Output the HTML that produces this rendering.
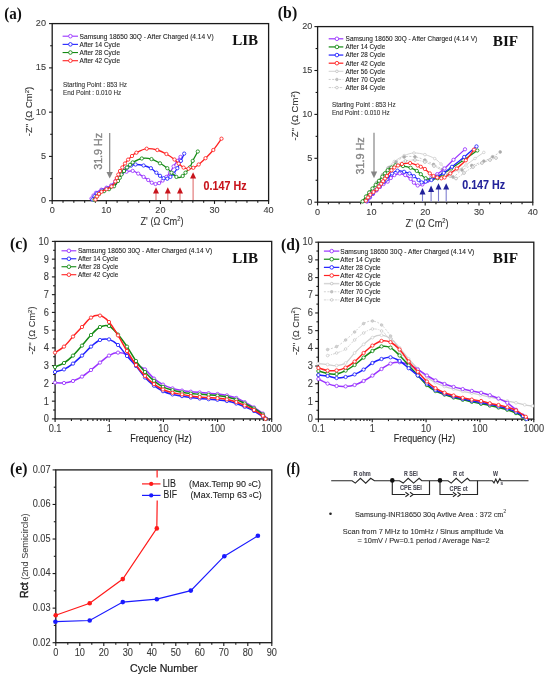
<!DOCTYPE html><html><head><meta charset="utf-8"><style>html,body{margin:0;padding:0;background:#fff;}svg{display:block;filter:blur(0.3px);}</style></head><body>
<svg width="550" height="679" viewBox="0 0 550 679">
<rect width="550" height="679" fill="#fff"/>
<rect x="52.2" y="23.6" width="216.4" height="177.1" fill="none" stroke="#1a1a1a" stroke-width="1.3"/>
<line x1="52.2" y1="200.7" x2="52.2" y2="203.9" stroke="#1a1a1a" stroke-width="1.1" />
<text x="52.2" y="213.2" font-size="9.8" font-family='"Liberation Sans", sans-serif' fill="#3a3a3a" text-anchor="middle" textLength="5.07" lengthAdjust="spacingAndGlyphs" stroke="#3a3a3a" stroke-width="0.1" >0</text>
<line x1="63.02" y1="200.7" x2="63.02" y2="202.7" stroke="#1a1a1a" stroke-width="1.1" />
<line x1="73.84" y1="200.7" x2="73.84" y2="202.7" stroke="#1a1a1a" stroke-width="1.1" />
<line x1="84.66" y1="200.7" x2="84.66" y2="202.7" stroke="#1a1a1a" stroke-width="1.1" />
<line x1="95.48" y1="200.7" x2="95.48" y2="202.7" stroke="#1a1a1a" stroke-width="1.1" />
<line x1="106.3" y1="200.7" x2="106.3" y2="203.9" stroke="#1a1a1a" stroke-width="1.1" />
<text x="106.3" y="213.2" font-size="9.8" font-family='"Liberation Sans", sans-serif' fill="#3a3a3a" text-anchor="middle" textLength="10.14" lengthAdjust="spacingAndGlyphs" stroke="#3a3a3a" stroke-width="0.1" >10</text>
<line x1="117.12" y1="200.7" x2="117.12" y2="202.7" stroke="#1a1a1a" stroke-width="1.1" />
<line x1="127.94" y1="200.7" x2="127.94" y2="202.7" stroke="#1a1a1a" stroke-width="1.1" />
<line x1="138.76" y1="200.7" x2="138.76" y2="202.7" stroke="#1a1a1a" stroke-width="1.1" />
<line x1="149.58" y1="200.7" x2="149.58" y2="202.7" stroke="#1a1a1a" stroke-width="1.1" />
<line x1="160.4" y1="200.7" x2="160.4" y2="203.9" stroke="#1a1a1a" stroke-width="1.1" />
<text x="160.4" y="213.2" font-size="9.8" font-family='"Liberation Sans", sans-serif' fill="#3a3a3a" text-anchor="middle" textLength="10.14" lengthAdjust="spacingAndGlyphs" stroke="#3a3a3a" stroke-width="0.1" >20</text>
<line x1="171.22" y1="200.7" x2="171.22" y2="202.7" stroke="#1a1a1a" stroke-width="1.1" />
<line x1="182.04" y1="200.7" x2="182.04" y2="202.7" stroke="#1a1a1a" stroke-width="1.1" />
<line x1="192.86" y1="200.7" x2="192.86" y2="202.7" stroke="#1a1a1a" stroke-width="1.1" />
<line x1="203.68" y1="200.7" x2="203.68" y2="202.7" stroke="#1a1a1a" stroke-width="1.1" />
<line x1="214.5" y1="200.7" x2="214.5" y2="203.9" stroke="#1a1a1a" stroke-width="1.1" />
<text x="214.5" y="213.2" font-size="9.8" font-family='"Liberation Sans", sans-serif' fill="#3a3a3a" text-anchor="middle" textLength="10.14" lengthAdjust="spacingAndGlyphs" stroke="#3a3a3a" stroke-width="0.1" >30</text>
<line x1="225.32" y1="200.7" x2="225.32" y2="202.7" stroke="#1a1a1a" stroke-width="1.1" />
<line x1="236.14" y1="200.7" x2="236.14" y2="202.7" stroke="#1a1a1a" stroke-width="1.1" />
<line x1="246.96" y1="200.7" x2="246.96" y2="202.7" stroke="#1a1a1a" stroke-width="1.1" />
<line x1="257.78" y1="200.7" x2="257.78" y2="202.7" stroke="#1a1a1a" stroke-width="1.1" />
<line x1="268.6" y1="200.7" x2="268.6" y2="203.9" stroke="#1a1a1a" stroke-width="1.1" />
<text x="268.6" y="213.2" font-size="9.8" font-family='"Liberation Sans", sans-serif' fill="#3a3a3a" text-anchor="middle" textLength="10.14" lengthAdjust="spacingAndGlyphs" stroke="#3a3a3a" stroke-width="0.1" >40</text>
<line x1="52.2" y1="200.7" x2="49" y2="200.7" stroke="#1a1a1a" stroke-width="1.1" />
<text x="46" y="203.2" font-size="9.8" font-family='"Liberation Sans", sans-serif' fill="#3a3a3a" text-anchor="end" textLength="5.07" lengthAdjust="spacingAndGlyphs" stroke="#3a3a3a" stroke-width="0.1" >0</text>
<line x1="52.2" y1="178.56" x2="50.2" y2="178.56" stroke="#1a1a1a" stroke-width="1.1" />
<line x1="52.2" y1="156.42" x2="49" y2="156.42" stroke="#1a1a1a" stroke-width="1.1" />
<text x="46" y="158.92" font-size="9.8" font-family='"Liberation Sans", sans-serif' fill="#3a3a3a" text-anchor="end" textLength="5.07" lengthAdjust="spacingAndGlyphs" stroke="#3a3a3a" stroke-width="0.1" >5</text>
<line x1="52.2" y1="134.29" x2="50.2" y2="134.29" stroke="#1a1a1a" stroke-width="1.1" />
<line x1="52.2" y1="112.15" x2="49" y2="112.15" stroke="#1a1a1a" stroke-width="1.1" />
<text x="46" y="114.65" font-size="9.8" font-family='"Liberation Sans", sans-serif' fill="#3a3a3a" text-anchor="end" textLength="10.14" lengthAdjust="spacingAndGlyphs" stroke="#3a3a3a" stroke-width="0.1" >10</text>
<line x1="52.2" y1="90.01" x2="50.2" y2="90.01" stroke="#1a1a1a" stroke-width="1.1" />
<line x1="52.2" y1="67.88" x2="49" y2="67.88" stroke="#1a1a1a" stroke-width="1.1" />
<text x="46" y="70.38" font-size="9.8" font-family='"Liberation Sans", sans-serif' fill="#3a3a3a" text-anchor="end" textLength="10.14" lengthAdjust="spacingAndGlyphs" stroke="#3a3a3a" stroke-width="0.1" >15</text>
<line x1="52.2" y1="45.74" x2="50.2" y2="45.74" stroke="#1a1a1a" stroke-width="1.1" />
<line x1="52.2" y1="23.6" x2="49" y2="23.6" stroke="#1a1a1a" stroke-width="1.1" />
<text x="46" y="26.1" font-size="9.8" font-family='"Liberation Sans", sans-serif' fill="#3a3a3a" text-anchor="end" textLength="10.14" lengthAdjust="spacingAndGlyphs" stroke="#3a3a3a" stroke-width="0.1" >20</text>
<text x="4.2" y="19.2" font-size="15.9" font-family='"Liberation Serif", serif' fill="#111" font-weight="bold" textLength="17.6" lengthAdjust="spacingAndGlyphs" >(a)</text>
<text x="232.2" y="44.5" font-size="15.5" font-family='"Liberation Serif", serif' fill="#111" font-weight="bold" textLength="26" lengthAdjust="spacingAndGlyphs" >LIB</text>
<text x="32.3" y="111.5" font-size="9.5" font-family='"Liberation Sans", sans-serif' fill="#333" text-anchor="middle" stroke="#333" stroke-width="0.1" transform="rotate(-90 32.3 111.5)" >-Z'' (Ω Cm<tspan font-size='6' dy='-3.5'>2</tspan><tspan dy='3.5'>)</tspan></text>
<text x="162" y="225.3" font-size="11.1" font-family='"Liberation Sans", sans-serif' fill="#333" text-anchor="middle" textLength="43" lengthAdjust="spacingAndGlyphs" stroke="#333" stroke-width="0.1" >Z' (Ω Cm<tspan font-size='7' dy='-4.2'>2</tspan><tspan dy='4.2'>)</tspan></text>
<line x1="62.6" y1="36.2" x2="78" y2="36.2" stroke="#9a33ff" stroke-width="1.1" />
<circle cx="70.4" cy="36.2" r="1.8" fill="#fff" stroke="#9a33ff" stroke-width="0.9"/>
<text x="79.6" y="38.6" font-size="7.3" font-family='"Liberation Sans", sans-serif' fill="#222" textLength="134" lengthAdjust="spacingAndGlyphs" stroke="#222" stroke-width="0.1" >Samsung 18650 30Q - After Charged (4.14 V)</text>
<line x1="62.6" y1="44.37" x2="78" y2="44.37" stroke="#2020ff" stroke-width="1.1" />
<circle cx="70.4" cy="44.37" r="1.8" fill="#fff" stroke="#2020ff" stroke-width="0.9"/>
<text x="79.6" y="46.77" font-size="7.3" font-family='"Liberation Sans", sans-serif' fill="#222" textLength="40.4" lengthAdjust="spacingAndGlyphs" stroke="#222" stroke-width="0.1" >After 14 Cycle</text>
<line x1="62.6" y1="52.54" x2="78" y2="52.54" stroke="#138a13" stroke-width="1.1" />
<circle cx="70.4" cy="52.54" r="1.8" fill="#fff" stroke="#138a13" stroke-width="0.9"/>
<text x="79.6" y="54.94" font-size="7.3" font-family='"Liberation Sans", sans-serif' fill="#222" textLength="40.4" lengthAdjust="spacingAndGlyphs" stroke="#222" stroke-width="0.1" >After 28 Cycle</text>
<line x1="62.6" y1="60.71" x2="78" y2="60.71" stroke="#ff2222" stroke-width="1.1" />
<circle cx="70.4" cy="60.71" r="1.8" fill="#fff" stroke="#ff2222" stroke-width="0.9"/>
<text x="79.6" y="63.11" font-size="7.3" font-family='"Liberation Sans", sans-serif' fill="#222" textLength="40.4" lengthAdjust="spacingAndGlyphs" stroke="#222" stroke-width="0.1" >After 42 Cycle</text>
<text x="63" y="87.4" font-size="7" font-family='"Liberation Sans", sans-serif' fill="#333" textLength="64" lengthAdjust="spacingAndGlyphs" stroke="#333" stroke-width="0.1" >Starting Point : 853 Hz</text>
<text x="63" y="95.4" font-size="7" font-family='"Liberation Sans", sans-serif' fill="#333" textLength="58.2" lengthAdjust="spacingAndGlyphs" stroke="#333" stroke-width="0.1" >End Point : 0.010 Hz</text>
<line x1="109.7" y1="133" x2="109.7" y2="173" stroke="#858585" stroke-width="1.2" />
<polygon points="106.5,172 112.9,172 109.7,178.6" fill="#858585"/>
<text x="102.2" y="169.8" font-size="11.5" font-family='"Liberation Sans", sans-serif' fill="#858585" textLength="36.8" lengthAdjust="spacingAndGlyphs" stroke="#858585" stroke-width="0.35" transform="rotate(-90 102.2 169.8)" >31.9 Hz</text>
<path d="M91.5,198.5 C91.83,198 92.75,196.45 93.5,195.5 C94.25,194.55 95.17,193.55 96,192.8 C96.83,192.05 97.6,191.52 98.5,191 C99.4,190.48 100.48,190.1 101.4,189.7 C102.32,189.3 103.15,188.93 104,188.6 C104.85,188.27 105.67,188.02 106.5,187.7 C107.33,187.38 108.22,187.08 109,186.7 C109.78,186.32 110.45,185.93 111.2,185.4 C111.95,184.87 112.78,184.23 113.5,183.5 C114.22,182.77 114.83,181.92 115.5,181 C116.17,180.08 116.83,178.92 117.5,178 C118.17,177.08 118.75,176.25 119.5,175.5 C120.25,174.75 120.83,174.13 122,173.5 C123.17,172.87 124.72,172.13 126.5,171.7 C128.28,171.27 130.75,170.58 132.7,170.9 C134.65,171.22 136.38,172.6 138.2,173.6 C140.02,174.6 141.93,175.83 143.6,176.9 C145.27,177.97 146.83,179.03 148.2,180 C149.57,180.97 150.58,182.03 151.8,182.7 C153.02,183.37 154.28,183.93 155.5,184 C156.72,184.07 157.9,183.68 159.1,183.1 C160.3,182.52 161.48,181.53 162.7,180.5 C163.92,179.47 165.18,178.2 166.4,176.9 C167.62,175.6 168.8,174.45 170,172.7 C171.2,170.95 172.38,168.37 173.6,166.4 C174.82,164.43 176.15,162.48 177.3,160.9 C178.45,159.32 179.97,157.57 180.5,156.9" fill="none" stroke="#9a33ff" stroke-width="1.3" stroke-linejoin="round"/>
<circle cx="91.5" cy="198.5" r="1.65" fill="#fff" stroke="#9a33ff" stroke-width="0.85"/>
<circle cx="93.5" cy="195.5" r="1.65" fill="#fff" stroke="#9a33ff" stroke-width="0.85"/>
<circle cx="96" cy="192.8" r="1.65" fill="#fff" stroke="#9a33ff" stroke-width="0.85"/>
<circle cx="101.4" cy="189.7" r="1.65" fill="#fff" stroke="#9a33ff" stroke-width="0.85"/>
<circle cx="106.5" cy="187.7" r="1.65" fill="#fff" stroke="#9a33ff" stroke-width="0.85"/>
<circle cx="111.2" cy="185.4" r="1.65" fill="#fff" stroke="#9a33ff" stroke-width="0.85"/>
<circle cx="115.5" cy="181" r="1.65" fill="#fff" stroke="#9a33ff" stroke-width="0.85"/>
<circle cx="117.5" cy="178" r="1.65" fill="#fff" stroke="#9a33ff" stroke-width="0.85"/>
<circle cx="119.5" cy="175.5" r="1.65" fill="#fff" stroke="#9a33ff" stroke-width="0.85"/>
<circle cx="122" cy="173.5" r="1.65" fill="#fff" stroke="#9a33ff" stroke-width="0.85"/>
<circle cx="126.5" cy="171.7" r="1.65" fill="#fff" stroke="#9a33ff" stroke-width="0.85"/>
<circle cx="132.7" cy="170.9" r="1.65" fill="#fff" stroke="#9a33ff" stroke-width="0.85"/>
<circle cx="138.2" cy="173.6" r="1.65" fill="#fff" stroke="#9a33ff" stroke-width="0.85"/>
<circle cx="143.6" cy="176.9" r="1.65" fill="#fff" stroke="#9a33ff" stroke-width="0.85"/>
<circle cx="148.2" cy="180" r="1.65" fill="#fff" stroke="#9a33ff" stroke-width="0.85"/>
<circle cx="151.8" cy="182.7" r="1.65" fill="#fff" stroke="#9a33ff" stroke-width="0.85"/>
<circle cx="155.5" cy="184" r="1.65" fill="#fff" stroke="#9a33ff" stroke-width="0.85"/>
<circle cx="159.1" cy="183.1" r="1.65" fill="#fff" stroke="#9a33ff" stroke-width="0.85"/>
<circle cx="162.7" cy="180.5" r="1.65" fill="#fff" stroke="#9a33ff" stroke-width="0.85"/>
<circle cx="166.4" cy="176.9" r="1.65" fill="#fff" stroke="#9a33ff" stroke-width="0.85"/>
<circle cx="170" cy="172.7" r="1.65" fill="#fff" stroke="#9a33ff" stroke-width="0.85"/>
<circle cx="173.6" cy="166.4" r="1.65" fill="#fff" stroke="#9a33ff" stroke-width="0.85"/>
<circle cx="177.3" cy="160.9" r="1.65" fill="#fff" stroke="#9a33ff" stroke-width="0.85"/>
<circle cx="180.5" cy="156.9" r="1.65" fill="#fff" stroke="#9a33ff" stroke-width="0.85"/>
<path d="M92.5,199.5 C92.83,198.95 93.75,197.2 94.5,196.2 C95.25,195.2 96.17,194.23 97,193.5 C97.83,192.77 98.67,192.3 99.5,191.8 C100.33,191.3 101.17,190.88 102,190.5 C102.83,190.12 103.67,189.82 104.5,189.5 C105.33,189.18 106.17,188.92 107,188.6 C107.83,188.28 108.67,188 109.5,187.6 C110.33,187.2 111.17,186.8 112,186.2 C112.83,185.6 113.75,184.87 114.5,184 C115.25,183.13 115.83,182.08 116.5,181 C117.17,179.92 117.83,178.58 118.5,177.5 C119.17,176.42 119.83,175.42 120.5,174.5 C121.17,173.58 121.75,172.83 122.5,172 C123.25,171.17 124.17,170.27 125,169.5 C125.83,168.73 126.5,168.05 127.5,167.4 C128.5,166.75 129.67,166.08 131,165.6 C132.33,165.12 133.4,164.52 135.5,164.5 C137.6,164.48 141.03,164.88 143.6,165.5 C146.17,166.12 148.77,167 150.9,168.2 C153.03,169.4 154.88,171.43 156.4,172.7 C157.92,173.97 158.8,174.88 160,175.8 C161.2,176.72 162.38,177.72 163.6,178.2 C164.82,178.68 166.17,178.92 167.3,178.7 C168.43,178.48 169.35,177.75 170.4,176.9 C171.45,176.05 172.45,175.05 173.6,173.6 C174.75,172.15 176.08,170.32 177.3,168.2 C178.52,166.08 179.75,163.33 180.9,160.9 C182.05,158.47 183.65,154.82 184.2,153.6" fill="none" stroke="#2020ff" stroke-width="1.3" stroke-linejoin="round"/>
<circle cx="92.5" cy="199.5" r="1.65" fill="#fff" stroke="#2020ff" stroke-width="0.85"/>
<circle cx="94.5" cy="196.2" r="1.65" fill="#fff" stroke="#2020ff" stroke-width="0.85"/>
<circle cx="97" cy="193.5" r="1.65" fill="#fff" stroke="#2020ff" stroke-width="0.85"/>
<circle cx="102" cy="190.5" r="1.65" fill="#fff" stroke="#2020ff" stroke-width="0.85"/>
<circle cx="107" cy="188.6" r="1.65" fill="#fff" stroke="#2020ff" stroke-width="0.85"/>
<circle cx="112" cy="186.2" r="1.65" fill="#fff" stroke="#2020ff" stroke-width="0.85"/>
<circle cx="114.5" cy="184" r="1.65" fill="#fff" stroke="#2020ff" stroke-width="0.85"/>
<circle cx="116.5" cy="181" r="1.65" fill="#fff" stroke="#2020ff" stroke-width="0.85"/>
<circle cx="118.5" cy="177.5" r="1.65" fill="#fff" stroke="#2020ff" stroke-width="0.85"/>
<circle cx="120.5" cy="174.5" r="1.65" fill="#fff" stroke="#2020ff" stroke-width="0.85"/>
<circle cx="122.5" cy="172" r="1.65" fill="#fff" stroke="#2020ff" stroke-width="0.85"/>
<circle cx="125" cy="169.5" r="1.65" fill="#fff" stroke="#2020ff" stroke-width="0.85"/>
<circle cx="127.5" cy="167.4" r="1.65" fill="#fff" stroke="#2020ff" stroke-width="0.85"/>
<circle cx="131" cy="165.6" r="1.65" fill="#fff" stroke="#2020ff" stroke-width="0.85"/>
<circle cx="135.5" cy="164.5" r="1.65" fill="#fff" stroke="#2020ff" stroke-width="0.85"/>
<circle cx="143.6" cy="165.5" r="1.65" fill="#fff" stroke="#2020ff" stroke-width="0.85"/>
<circle cx="150.9" cy="168.2" r="1.65" fill="#fff" stroke="#2020ff" stroke-width="0.85"/>
<circle cx="156.4" cy="172.7" r="1.65" fill="#fff" stroke="#2020ff" stroke-width="0.85"/>
<circle cx="160" cy="175.8" r="1.65" fill="#fff" stroke="#2020ff" stroke-width="0.85"/>
<circle cx="163.6" cy="178.2" r="1.65" fill="#fff" stroke="#2020ff" stroke-width="0.85"/>
<circle cx="167.3" cy="178.7" r="1.65" fill="#fff" stroke="#2020ff" stroke-width="0.85"/>
<circle cx="170.4" cy="176.9" r="1.65" fill="#fff" stroke="#2020ff" stroke-width="0.85"/>
<circle cx="173.6" cy="173.6" r="1.65" fill="#fff" stroke="#2020ff" stroke-width="0.85"/>
<circle cx="177.3" cy="168.2" r="1.65" fill="#fff" stroke="#2020ff" stroke-width="0.85"/>
<circle cx="180.9" cy="160.9" r="1.65" fill="#fff" stroke="#2020ff" stroke-width="0.85"/>
<circle cx="184.2" cy="153.6" r="1.65" fill="#fff" stroke="#2020ff" stroke-width="0.85"/>
<path d="M94.5,200 C94.83,199.47 95.75,197.77 96.5,196.8 C97.25,195.83 98.17,194.93 99,194.2 C99.83,193.47 100.67,192.9 101.5,192.4 C102.33,191.9 103.17,191.57 104,191.2 C104.83,190.83 105.67,190.53 106.5,190.2 C107.33,189.87 108.17,189.57 109,189.2 C109.83,188.83 110.67,188.48 111.5,188 C112.33,187.52 113.22,186.97 114,186.3 C114.78,185.63 115.53,184.88 116.2,184 C116.87,183.12 117.4,182.03 118,181 C118.6,179.97 119.22,178.88 119.8,177.8 C120.38,176.72 120.8,175.63 121.5,174.5 C122.2,173.37 123.08,172.17 124,171 C124.92,169.83 126,168.53 127,167.5 C128,166.47 129.05,165.65 130,164.8 C130.95,163.95 130.73,163.45 132.7,162.4 C134.67,161.35 138.67,159.05 141.8,158.5 C144.93,157.95 148.47,158.3 151.5,159.1 C154.53,159.9 157.37,161.78 160,163.3 C162.63,164.82 165.38,166.63 167.3,168.2 C169.22,169.77 169.98,171.25 171.5,172.7 C173.02,174.15 175.13,176.08 176.4,176.9 C177.67,177.72 178.05,177.75 179.1,177.6 C180.15,177.45 181.63,176.82 182.7,176 C183.77,175.18 184.28,174.15 185.5,172.7 C186.72,171.25 188.8,169.27 190,167.3 C191.2,165.33 191.4,163.53 192.7,160.9 C194,158.27 196.95,153.07 197.8,151.5" fill="none" stroke="#138a13" stroke-width="1.3" stroke-linejoin="round"/>
<circle cx="94.5" cy="200" r="1.65" fill="#fff" stroke="#138a13" stroke-width="0.85"/>
<circle cx="96.5" cy="196.8" r="1.65" fill="#fff" stroke="#138a13" stroke-width="0.85"/>
<circle cx="99" cy="194.2" r="1.65" fill="#fff" stroke="#138a13" stroke-width="0.85"/>
<circle cx="104" cy="191.2" r="1.65" fill="#fff" stroke="#138a13" stroke-width="0.85"/>
<circle cx="109" cy="189.2" r="1.65" fill="#fff" stroke="#138a13" stroke-width="0.85"/>
<circle cx="114" cy="186.3" r="1.65" fill="#fff" stroke="#138a13" stroke-width="0.85"/>
<circle cx="118" cy="181" r="1.65" fill="#fff" stroke="#138a13" stroke-width="0.85"/>
<circle cx="119.8" cy="177.8" r="1.65" fill="#fff" stroke="#138a13" stroke-width="0.85"/>
<circle cx="121.5" cy="174.5" r="1.65" fill="#fff" stroke="#138a13" stroke-width="0.85"/>
<circle cx="124" cy="171" r="1.65" fill="#fff" stroke="#138a13" stroke-width="0.85"/>
<circle cx="127" cy="167.5" r="1.65" fill="#fff" stroke="#138a13" stroke-width="0.85"/>
<circle cx="130" cy="164.8" r="1.65" fill="#fff" stroke="#138a13" stroke-width="0.85"/>
<circle cx="132.7" cy="162.4" r="1.65" fill="#fff" stroke="#138a13" stroke-width="0.85"/>
<circle cx="141.8" cy="158.5" r="1.65" fill="#fff" stroke="#138a13" stroke-width="0.85"/>
<circle cx="151.5" cy="159.1" r="1.65" fill="#fff" stroke="#138a13" stroke-width="0.85"/>
<circle cx="160" cy="163.3" r="1.65" fill="#fff" stroke="#138a13" stroke-width="0.85"/>
<circle cx="167.3" cy="168.2" r="1.65" fill="#fff" stroke="#138a13" stroke-width="0.85"/>
<circle cx="171.5" cy="172.7" r="1.65" fill="#fff" stroke="#138a13" stroke-width="0.85"/>
<circle cx="176.4" cy="176.9" r="1.65" fill="#fff" stroke="#138a13" stroke-width="0.85"/>
<circle cx="182.7" cy="176" r="1.65" fill="#fff" stroke="#138a13" stroke-width="0.85"/>
<circle cx="185.5" cy="172.7" r="1.65" fill="#fff" stroke="#138a13" stroke-width="0.85"/>
<circle cx="190" cy="167.3" r="1.65" fill="#fff" stroke="#138a13" stroke-width="0.85"/>
<circle cx="192.7" cy="160.9" r="1.65" fill="#fff" stroke="#138a13" stroke-width="0.85"/>
<circle cx="197.8" cy="151.5" r="1.65" fill="#fff" stroke="#138a13" stroke-width="0.85"/>
<path d="M95.4,199.5 C95.67,199 96.4,197.45 97,196.5 C97.6,195.55 98.25,194.58 99,193.8 C99.75,193.02 100.67,192.38 101.5,191.8 C102.33,191.22 103.17,190.73 104,190.3 C104.83,189.87 105.67,189.58 106.5,189.2 C107.33,188.82 108.17,188.45 109,188 C109.83,187.55 110.75,187.08 111.5,186.5 C112.25,185.92 112.87,185.33 113.5,184.5 C114.13,183.67 114.75,182.58 115.3,181.5 C115.85,180.42 116.3,179.17 116.8,178 C117.3,176.83 117.77,175.67 118.3,174.5 C118.83,173.33 119.33,172.17 120,171 C120.67,169.83 121.47,168.75 122.3,167.5 C123.13,166.25 124.03,164.82 125,163.5 C125.97,162.18 126.93,160.85 128.1,159.6 C129.27,158.35 130.62,157.15 132,156 C133.38,154.85 133.95,153.92 136.4,152.7 C138.85,151.48 143.22,149.15 146.7,148.7 C150.18,148.25 154.02,149.12 157.3,150 C160.58,150.88 163.53,152.42 166.4,154 C169.27,155.58 172.45,157.9 174.5,159.5 C176.55,161.1 177.18,162.25 178.7,163.6 C180.22,164.95 181.97,166.75 183.6,167.6 C185.23,168.45 186.88,168.67 188.5,168.7 C190.12,168.73 191.6,168.5 193.3,167.8 C195,167.1 196.67,166.1 198.7,164.5 C200.73,162.9 203.07,160.62 205.5,158.2 C207.93,155.78 210.63,153.25 213.3,150 C215.97,146.75 220.13,140.58 221.5,138.7" fill="none" stroke="#ff2222" stroke-width="1.3" stroke-linejoin="round"/>
<circle cx="95.4" cy="199.5" r="1.65" fill="#fff" stroke="#ff2222" stroke-width="0.85"/>
<circle cx="97" cy="196.5" r="1.65" fill="#fff" stroke="#ff2222" stroke-width="0.85"/>
<circle cx="99" cy="193.8" r="1.65" fill="#fff" stroke="#ff2222" stroke-width="0.85"/>
<circle cx="101.5" cy="191.8" r="1.65" fill="#fff" stroke="#ff2222" stroke-width="0.85"/>
<circle cx="106.5" cy="189.2" r="1.65" fill="#fff" stroke="#ff2222" stroke-width="0.85"/>
<circle cx="111.5" cy="186.5" r="1.65" fill="#fff" stroke="#ff2222" stroke-width="0.85"/>
<circle cx="115.3" cy="181.5" r="1.65" fill="#fff" stroke="#ff2222" stroke-width="0.85"/>
<circle cx="116.8" cy="178" r="1.65" fill="#fff" stroke="#ff2222" stroke-width="0.85"/>
<circle cx="118.3" cy="174.5" r="1.65" fill="#fff" stroke="#ff2222" stroke-width="0.85"/>
<circle cx="120" cy="171" r="1.65" fill="#fff" stroke="#ff2222" stroke-width="0.85"/>
<circle cx="122.3" cy="167.5" r="1.65" fill="#fff" stroke="#ff2222" stroke-width="0.85"/>
<circle cx="125" cy="163.5" r="1.65" fill="#fff" stroke="#ff2222" stroke-width="0.85"/>
<circle cx="128.1" cy="159.6" r="1.65" fill="#fff" stroke="#ff2222" stroke-width="0.85"/>
<circle cx="132" cy="156" r="1.65" fill="#fff" stroke="#ff2222" stroke-width="0.85"/>
<circle cx="136.4" cy="152.7" r="1.65" fill="#fff" stroke="#ff2222" stroke-width="0.85"/>
<circle cx="146.7" cy="148.7" r="1.65" fill="#fff" stroke="#ff2222" stroke-width="0.85"/>
<circle cx="157.3" cy="150" r="1.65" fill="#fff" stroke="#ff2222" stroke-width="0.85"/>
<circle cx="166.4" cy="154" r="1.65" fill="#fff" stroke="#ff2222" stroke-width="0.85"/>
<circle cx="174.5" cy="159.5" r="1.65" fill="#fff" stroke="#ff2222" stroke-width="0.85"/>
<circle cx="178.7" cy="163.6" r="1.65" fill="#fff" stroke="#ff2222" stroke-width="0.85"/>
<circle cx="183.6" cy="167.6" r="1.65" fill="#fff" stroke="#ff2222" stroke-width="0.85"/>
<circle cx="188.5" cy="168.7" r="1.65" fill="#fff" stroke="#ff2222" stroke-width="0.85"/>
<circle cx="193.3" cy="167.8" r="1.65" fill="#fff" stroke="#ff2222" stroke-width="0.85"/>
<circle cx="198.7" cy="164.5" r="1.65" fill="#fff" stroke="#ff2222" stroke-width="0.85"/>
<circle cx="205.5" cy="158.2" r="1.65" fill="#fff" stroke="#ff2222" stroke-width="0.85"/>
<circle cx="213.3" cy="150" r="1.65" fill="#fff" stroke="#ff2222" stroke-width="0.85"/>
<circle cx="221.5" cy="138.7" r="1.65" fill="#fff" stroke="#ff2222" stroke-width="0.85"/>
<line x1="156" y1="192.3" x2="156" y2="200.1" stroke="#e07070" stroke-width="1.1" />
<polygon points="153,193.6 159,193.6 156,187.3" fill="#c8141c"/>
<line x1="167.8" y1="192.3" x2="167.8" y2="200.1" stroke="#e07070" stroke-width="1.1" />
<polygon points="164.8,193.6 170.8,193.6 167.8,187.3" fill="#c8141c"/>
<line x1="180" y1="192.3" x2="180" y2="200.1" stroke="#e07070" stroke-width="1.1" />
<polygon points="177,193.6 183,193.6 180,187.3" fill="#c8141c"/>
<line x1="193.1" y1="177.2" x2="193.1" y2="200.1" stroke="#e07070" stroke-width="1.1" />
<polygon points="190.1,178.5 196.1,178.5 193.1,172.2" fill="#c8141c"/>
<text x="203.6" y="189.5" font-size="12" font-family='"Liberation Sans", sans-serif' fill="#c8141c" font-weight="bold" textLength="42.9" lengthAdjust="spacingAndGlyphs" stroke="#c8141c" stroke-width="0.1" >0.147 Hz</text>
<rect x="317.6" y="26.6" width="215.2" height="175.6" fill="none" stroke="#1a1a1a" stroke-width="1.3"/>
<line x1="317.6" y1="202.2" x2="317.6" y2="205.4" stroke="#1a1a1a" stroke-width="1.1" />
<text x="317.6" y="214.9" font-size="9.8" font-family='"Liberation Sans", sans-serif' fill="#3a3a3a" text-anchor="middle" textLength="5.07" lengthAdjust="spacingAndGlyphs" stroke="#3a3a3a" stroke-width="0.1" >0</text>
<line x1="328.36" y1="202.2" x2="328.36" y2="204.2" stroke="#1a1a1a" stroke-width="1.1" />
<line x1="339.12" y1="202.2" x2="339.12" y2="204.2" stroke="#1a1a1a" stroke-width="1.1" />
<line x1="349.88" y1="202.2" x2="349.88" y2="204.2" stroke="#1a1a1a" stroke-width="1.1" />
<line x1="360.64" y1="202.2" x2="360.64" y2="204.2" stroke="#1a1a1a" stroke-width="1.1" />
<line x1="371.4" y1="202.2" x2="371.4" y2="205.4" stroke="#1a1a1a" stroke-width="1.1" />
<text x="371.4" y="214.9" font-size="9.8" font-family='"Liberation Sans", sans-serif' fill="#3a3a3a" text-anchor="middle" textLength="10.14" lengthAdjust="spacingAndGlyphs" stroke="#3a3a3a" stroke-width="0.1" >10</text>
<line x1="382.16" y1="202.2" x2="382.16" y2="204.2" stroke="#1a1a1a" stroke-width="1.1" />
<line x1="392.92" y1="202.2" x2="392.92" y2="204.2" stroke="#1a1a1a" stroke-width="1.1" />
<line x1="403.68" y1="202.2" x2="403.68" y2="204.2" stroke="#1a1a1a" stroke-width="1.1" />
<line x1="414.44" y1="202.2" x2="414.44" y2="204.2" stroke="#1a1a1a" stroke-width="1.1" />
<line x1="425.2" y1="202.2" x2="425.2" y2="205.4" stroke="#1a1a1a" stroke-width="1.1" />
<text x="425.2" y="214.9" font-size="9.8" font-family='"Liberation Sans", sans-serif' fill="#3a3a3a" text-anchor="middle" textLength="10.14" lengthAdjust="spacingAndGlyphs" stroke="#3a3a3a" stroke-width="0.1" >20</text>
<line x1="435.96" y1="202.2" x2="435.96" y2="204.2" stroke="#1a1a1a" stroke-width="1.1" />
<line x1="446.72" y1="202.2" x2="446.72" y2="204.2" stroke="#1a1a1a" stroke-width="1.1" />
<line x1="457.48" y1="202.2" x2="457.48" y2="204.2" stroke="#1a1a1a" stroke-width="1.1" />
<line x1="468.24" y1="202.2" x2="468.24" y2="204.2" stroke="#1a1a1a" stroke-width="1.1" />
<line x1="479" y1="202.2" x2="479" y2="205.4" stroke="#1a1a1a" stroke-width="1.1" />
<text x="479" y="214.9" font-size="9.8" font-family='"Liberation Sans", sans-serif' fill="#3a3a3a" text-anchor="middle" textLength="10.14" lengthAdjust="spacingAndGlyphs" stroke="#3a3a3a" stroke-width="0.1" >30</text>
<line x1="489.76" y1="202.2" x2="489.76" y2="204.2" stroke="#1a1a1a" stroke-width="1.1" />
<line x1="500.52" y1="202.2" x2="500.52" y2="204.2" stroke="#1a1a1a" stroke-width="1.1" />
<line x1="511.28" y1="202.2" x2="511.28" y2="204.2" stroke="#1a1a1a" stroke-width="1.1" />
<line x1="522.04" y1="202.2" x2="522.04" y2="204.2" stroke="#1a1a1a" stroke-width="1.1" />
<line x1="532.8" y1="202.2" x2="532.8" y2="205.4" stroke="#1a1a1a" stroke-width="1.1" />
<text x="532.8" y="214.9" font-size="9.8" font-family='"Liberation Sans", sans-serif' fill="#3a3a3a" text-anchor="middle" textLength="10.14" lengthAdjust="spacingAndGlyphs" stroke="#3a3a3a" stroke-width="0.1" >40</text>
<line x1="317.6" y1="202.2" x2="314.4" y2="202.2" stroke="#1a1a1a" stroke-width="1.1" />
<text x="312.3" y="204.6" font-size="9.8" font-family='"Liberation Sans", sans-serif' fill="#3a3a3a" text-anchor="end" textLength="5.07" lengthAdjust="spacingAndGlyphs" stroke="#3a3a3a" stroke-width="0.1" >0</text>
<line x1="317.6" y1="180.25" x2="315.6" y2="180.25" stroke="#1a1a1a" stroke-width="1.1" />
<line x1="317.6" y1="158.3" x2="314.4" y2="158.3" stroke="#1a1a1a" stroke-width="1.1" />
<text x="312.3" y="160.7" font-size="9.8" font-family='"Liberation Sans", sans-serif' fill="#3a3a3a" text-anchor="end" textLength="5.07" lengthAdjust="spacingAndGlyphs" stroke="#3a3a3a" stroke-width="0.1" >5</text>
<line x1="317.6" y1="136.35" x2="315.6" y2="136.35" stroke="#1a1a1a" stroke-width="1.1" />
<line x1="317.6" y1="114.4" x2="314.4" y2="114.4" stroke="#1a1a1a" stroke-width="1.1" />
<text x="312.3" y="116.8" font-size="9.8" font-family='"Liberation Sans", sans-serif' fill="#3a3a3a" text-anchor="end" textLength="10.14" lengthAdjust="spacingAndGlyphs" stroke="#3a3a3a" stroke-width="0.1" >10</text>
<line x1="317.6" y1="92.45" x2="315.6" y2="92.45" stroke="#1a1a1a" stroke-width="1.1" />
<line x1="317.6" y1="70.5" x2="314.4" y2="70.5" stroke="#1a1a1a" stroke-width="1.1" />
<text x="312.3" y="72.9" font-size="9.8" font-family='"Liberation Sans", sans-serif' fill="#3a3a3a" text-anchor="end" textLength="10.14" lengthAdjust="spacingAndGlyphs" stroke="#3a3a3a" stroke-width="0.1" >15</text>
<line x1="317.6" y1="48.55" x2="315.6" y2="48.55" stroke="#1a1a1a" stroke-width="1.1" />
<line x1="317.6" y1="26.6" x2="314.4" y2="26.6" stroke="#1a1a1a" stroke-width="1.1" />
<text x="312.3" y="29" font-size="9.8" font-family='"Liberation Sans", sans-serif' fill="#3a3a3a" text-anchor="end" textLength="10.14" lengthAdjust="spacingAndGlyphs" stroke="#3a3a3a" stroke-width="0.1" >20</text>
<text x="277.8" y="17.6" font-size="15.9" font-family='"Liberation Serif", serif' fill="#111" font-weight="bold" textLength="19.4" lengthAdjust="spacingAndGlyphs" >(b)</text>
<text x="492.7" y="46.1" font-size="15.5" font-family='"Liberation Serif", serif' fill="#111" font-weight="bold" textLength="25.5" lengthAdjust="spacingAndGlyphs" >BIF</text>
<text x="298.5" y="115.8" font-size="9.5" font-family='"Liberation Sans", sans-serif' fill="#333" text-anchor="middle" stroke="#333" stroke-width="0.1" transform="rotate(-90 298.5 115.8)" >-Z'' (Ω Cm<tspan font-size='6' dy='-3.5'>2</tspan><tspan dy='3.5'>)</tspan></text>
<text x="427.1" y="226.7" font-size="11.1" font-family='"Liberation Sans", sans-serif' fill="#333" text-anchor="middle" textLength="43" lengthAdjust="spacingAndGlyphs" stroke="#333" stroke-width="0.1" >Z' (Ω Cm<tspan font-size='7' dy='-4.2'>2</tspan><tspan dy='4.2'>)</tspan></text>
<line x1="328.7" y1="38.8" x2="343.3" y2="38.8" stroke="#9a33ff" stroke-width="1.2" />
<circle cx="336.9" cy="38.8" r="1.8" fill="#fff" stroke="#9a33ff" stroke-width="0.9"/>
<text x="345.6" y="41.2" font-size="7.2" font-family='"Liberation Sans", sans-serif' fill="#222" textLength="131.5" lengthAdjust="spacingAndGlyphs" stroke="#222" stroke-width="0.1" >Samsung 18650 30Q - After Charged (4.14 V)</text>
<line x1="328.7" y1="46.93" x2="343.3" y2="46.93" stroke="#138a13" stroke-width="1.2" />
<circle cx="336.9" cy="46.93" r="1.8" fill="#fff" stroke="#138a13" stroke-width="0.9"/>
<text x="345.6" y="49.33" font-size="7.2" font-family='"Liberation Sans", sans-serif' fill="#222" textLength="39.6" lengthAdjust="spacingAndGlyphs" stroke="#222" stroke-width="0.1" >After 14 Cycle</text>
<line x1="328.7" y1="55.06" x2="343.3" y2="55.06" stroke="#2020ff" stroke-width="1.2" />
<circle cx="336.9" cy="55.06" r="1.8" fill="#fff" stroke="#2020ff" stroke-width="0.9"/>
<text x="345.6" y="57.46" font-size="7.2" font-family='"Liberation Sans", sans-serif' fill="#222" textLength="39.6" lengthAdjust="spacingAndGlyphs" stroke="#222" stroke-width="0.1" >After 28 Cycle</text>
<line x1="328.7" y1="63.19" x2="343.3" y2="63.19" stroke="#ff2222" stroke-width="1.2" />
<circle cx="336.9" cy="63.19" r="1.8" fill="#fff" stroke="#ff2222" stroke-width="0.9"/>
<text x="345.6" y="65.59" font-size="7.2" font-family='"Liberation Sans", sans-serif' fill="#222" textLength="39.6" lengthAdjust="spacingAndGlyphs" stroke="#222" stroke-width="0.1" >After 42 Cycle</text>
<line x1="328.7" y1="71.32" x2="343.3" y2="71.32" stroke="#c8c8c8" stroke-width="0.8" />
<circle cx="336.9" cy="71.32" r="1.3" fill="#fff" stroke="#b8b8b8" stroke-width="0.7"/>
<text x="345.6" y="73.72" font-size="7.2" font-family='"Liberation Sans", sans-serif' fill="#222" textLength="39.6" lengthAdjust="spacingAndGlyphs" stroke="#222" stroke-width="0.1" >After 56 Cycle</text>
<line x1="328.7" y1="79.45" x2="343.3" y2="79.45" stroke="#c0c0c0" stroke-width="0.8" stroke-dasharray="2,1.5"/>
<circle cx="336.9" cy="79.45" r="1.3" fill="#c4c4c4" stroke="#b8b8b8" stroke-width="0.7"/>
<text x="345.6" y="81.85" font-size="7.2" font-family='"Liberation Sans", sans-serif' fill="#222" textLength="39.6" lengthAdjust="spacingAndGlyphs" stroke="#222" stroke-width="0.1" >After 70 Cycle</text>
<line x1="328.7" y1="87.58" x2="343.3" y2="87.58" stroke="#c4c4c4" stroke-width="0.8" stroke-dasharray="2.5,1,1,1"/>
<circle cx="336.9" cy="87.58" r="1.3" fill="#fff" stroke="#b8b8b8" stroke-width="0.7"/>
<text x="345.6" y="89.98" font-size="7.2" font-family='"Liberation Sans", sans-serif' fill="#222" textLength="39.6" lengthAdjust="spacingAndGlyphs" stroke="#222" stroke-width="0.1" >After 84 Cycle</text>
<text x="331.9" y="107.4" font-size="7" font-family='"Liberation Sans", sans-serif' fill="#333" textLength="63.7" lengthAdjust="spacingAndGlyphs" stroke="#333" stroke-width="0.1" >Starting Point : 853 Hz</text>
<text x="331.9" y="115.4" font-size="7" font-family='"Liberation Sans", sans-serif' fill="#333" textLength="57.9" lengthAdjust="spacingAndGlyphs" stroke="#333" stroke-width="0.1" >End Point : 0.010 Hz</text>
<line x1="374" y1="132.7" x2="374" y2="172.5" stroke="#858585" stroke-width="1.2" />
<polygon points="370.8,171.6 377.2,171.6 374,178.2" fill="#858585"/>
<text x="363.8" y="174.6" font-size="11.5" font-family='"Liberation Sans", sans-serif' fill="#858585" textLength="37.2" lengthAdjust="spacingAndGlyphs" stroke="#858585" stroke-width="0.35" transform="rotate(-90 363.8 174.6)" >31.9 Hz</text>
<path d="M362,201.5 C363.17,199.92 366.67,195.08 369,192 C371.33,188.92 373.78,185.82 376,183 C378.22,180.18 380.35,177.6 382.3,175.1 C384.25,172.6 385.7,170.27 387.7,168 C389.7,165.73 391.55,163.57 394.3,161.5 C397.05,159.43 400.92,157.02 404.2,155.6 C407.48,154.18 410.55,153.17 414,153 C417.45,152.83 421.45,153.67 424.9,154.6 C428.35,155.53 432.02,157.03 434.7,158.6 C437.38,160.17 439.12,162.1 441,164 C442.88,165.9 444.33,168.58 446,170 C447.67,171.42 449,172.5 451,172.5 C453,172.5 455.5,171.25 458,170 C460.5,168.75 463.17,166.92 466,165 C468.83,163.08 472.03,160.6 475,158.5 C477.97,156.4 482.33,153.42 483.8,152.4" fill="none" stroke="#c8c8c8" stroke-width="0.8" stroke-linejoin="round"/>
<circle cx="362" cy="201.5" r="1.3" fill="#fff" stroke="#c8c8c8" stroke-width="0.7"/>
<circle cx="369" cy="192" r="1.3" fill="#fff" stroke="#c8c8c8" stroke-width="0.7"/>
<circle cx="376" cy="183" r="1.3" fill="#fff" stroke="#c8c8c8" stroke-width="0.7"/>
<circle cx="382.3" cy="175.1" r="1.3" fill="#fff" stroke="#c8c8c8" stroke-width="0.7"/>
<circle cx="387.7" cy="168" r="1.3" fill="#fff" stroke="#c8c8c8" stroke-width="0.7"/>
<circle cx="394.3" cy="161.5" r="1.3" fill="#fff" stroke="#c8c8c8" stroke-width="0.7"/>
<circle cx="404.2" cy="155.6" r="1.3" fill="#fff" stroke="#c8c8c8" stroke-width="0.7"/>
<circle cx="414" cy="153" r="1.3" fill="#fff" stroke="#c8c8c8" stroke-width="0.7"/>
<circle cx="424.9" cy="154.6" r="1.3" fill="#fff" stroke="#c8c8c8" stroke-width="0.7"/>
<circle cx="434.7" cy="158.6" r="1.3" fill="#fff" stroke="#c8c8c8" stroke-width="0.7"/>
<circle cx="441" cy="164" r="1.3" fill="#fff" stroke="#c8c8c8" stroke-width="0.7"/>
<circle cx="446" cy="170" r="1.3" fill="#fff" stroke="#c8c8c8" stroke-width="0.7"/>
<circle cx="451" cy="172.5" r="1.3" fill="#fff" stroke="#c8c8c8" stroke-width="0.7"/>
<circle cx="458" cy="170" r="1.3" fill="#fff" stroke="#c8c8c8" stroke-width="0.7"/>
<circle cx="466" cy="165" r="1.3" fill="#fff" stroke="#c8c8c8" stroke-width="0.7"/>
<circle cx="475" cy="158.5" r="1.3" fill="#fff" stroke="#c8c8c8" stroke-width="0.7"/>
<circle cx="483.8" cy="152.4" r="1.3" fill="#fff" stroke="#c8c8c8" stroke-width="0.7"/>
<path d="M363,201.5 C364.17,199.92 367.67,195.17 370,192 C372.33,188.83 374.83,185.42 377,182.5 C379.17,179.58 381,177 383,174.5 C385,172 386.83,169.58 389,167.5 C391.17,165.42 393.47,163.75 396,162 C398.53,160.25 401.03,157.87 404.2,157 C407.37,156.13 411.55,156.28 415,156.8 C418.45,157.32 421.8,158.82 424.9,160.1 C428,161.38 430.68,162.93 433.6,164.5 C436.52,166.07 440.03,167.75 442.4,169.5 C444.77,171.25 446.03,173.75 447.8,175 C449.57,176.25 450.63,177.83 453,177 C455.37,176.17 458.87,171.92 462,170 C465.13,168.08 468.17,166.97 471.8,165.5 C475.43,164.03 480.33,162.65 483.8,161.2 C487.27,159.75 489.87,158.33 492.6,156.8 C495.33,155.27 498.93,152.8 500.2,152" fill="none" stroke="#b4b4b4" stroke-width="0.7" stroke-dasharray="2,1.5" stroke-linejoin="round"/>
<circle cx="363" cy="201.5" r="1.4" fill="#a8a8a8" stroke="#b4b4b4" stroke-width="0.7"/>
<circle cx="370" cy="192" r="1.4" fill="#a8a8a8" stroke="#b4b4b4" stroke-width="0.7"/>
<circle cx="377" cy="182.5" r="1.4" fill="#a8a8a8" stroke="#b4b4b4" stroke-width="0.7"/>
<circle cx="383" cy="174.5" r="1.4" fill="#a8a8a8" stroke="#b4b4b4" stroke-width="0.7"/>
<circle cx="389" cy="167.5" r="1.4" fill="#a8a8a8" stroke="#b4b4b4" stroke-width="0.7"/>
<circle cx="396" cy="162" r="1.4" fill="#a8a8a8" stroke="#b4b4b4" stroke-width="0.7"/>
<circle cx="404.2" cy="157" r="1.4" fill="#a8a8a8" stroke="#b4b4b4" stroke-width="0.7"/>
<circle cx="415" cy="156.8" r="1.4" fill="#a8a8a8" stroke="#b4b4b4" stroke-width="0.7"/>
<circle cx="424.9" cy="160.1" r="1.4" fill="#a8a8a8" stroke="#b4b4b4" stroke-width="0.7"/>
<circle cx="433.6" cy="164.5" r="1.4" fill="#a8a8a8" stroke="#b4b4b4" stroke-width="0.7"/>
<circle cx="442.4" cy="169.5" r="1.4" fill="#a8a8a8" stroke="#b4b4b4" stroke-width="0.7"/>
<circle cx="447.8" cy="175" r="1.4" fill="#a8a8a8" stroke="#b4b4b4" stroke-width="0.7"/>
<circle cx="453" cy="177" r="1.4" fill="#a8a8a8" stroke="#b4b4b4" stroke-width="0.7"/>
<circle cx="462" cy="170" r="1.4" fill="#a8a8a8" stroke="#b4b4b4" stroke-width="0.7"/>
<circle cx="471.8" cy="165.5" r="1.4" fill="#a8a8a8" stroke="#b4b4b4" stroke-width="0.7"/>
<circle cx="483.8" cy="161.2" r="1.4" fill="#a8a8a8" stroke="#b4b4b4" stroke-width="0.7"/>
<circle cx="492.6" cy="156.8" r="1.4" fill="#a8a8a8" stroke="#b4b4b4" stroke-width="0.7"/>
<circle cx="500.2" cy="152" r="1.4" fill="#a8a8a8" stroke="#b4b4b4" stroke-width="0.7"/>
<path d="M363,201.5 C364.17,200 367.67,195.5 370,192.5 C372.33,189.5 374.83,186.25 377,183.5 C379.17,180.75 381,178.33 383,176 C385,173.67 386.83,171.42 389,169.5 C391.17,167.58 393.28,165.92 396,164.5 C398.72,163.08 402.13,161.75 405.3,161 C408.47,160.25 411.73,159.83 415,160 C418.27,160.17 421.73,161 424.9,162 C428.07,163 430.98,164.5 434,166 C437.02,167.5 440.33,169.33 443,171 C445.67,172.67 447.83,174.75 450,176 C452.17,177.25 453.67,179 456,178.5 C458.33,178 461.17,174.92 464,173 C466.83,171.08 470,168.67 473,167 C476,165.33 479.17,164.17 482,163 C484.83,161.83 487.67,160.83 490,160 C492.33,159.17 495,158.33 496,158" fill="none" stroke="#b4b4b4" stroke-width="0.7" stroke-dasharray="2.5,1,1,1" stroke-linejoin="round"/>
<circle cx="363" cy="201.5" r="1.4" fill="#fff" stroke="#b4b4b4" stroke-width="0.8"/>
<circle cx="370" cy="192.5" r="1.4" fill="#fff" stroke="#b4b4b4" stroke-width="0.8"/>
<circle cx="377" cy="183.5" r="1.4" fill="#fff" stroke="#b4b4b4" stroke-width="0.8"/>
<circle cx="383" cy="176" r="1.4" fill="#fff" stroke="#b4b4b4" stroke-width="0.8"/>
<circle cx="389" cy="169.5" r="1.4" fill="#fff" stroke="#b4b4b4" stroke-width="0.8"/>
<circle cx="396" cy="164.5" r="1.4" fill="#fff" stroke="#b4b4b4" stroke-width="0.8"/>
<circle cx="405.3" cy="161" r="1.4" fill="#fff" stroke="#b4b4b4" stroke-width="0.8"/>
<circle cx="415" cy="160" r="1.4" fill="#fff" stroke="#b4b4b4" stroke-width="0.8"/>
<circle cx="424.9" cy="162" r="1.4" fill="#fff" stroke="#b4b4b4" stroke-width="0.8"/>
<circle cx="434" cy="166" r="1.4" fill="#fff" stroke="#b4b4b4" stroke-width="0.8"/>
<circle cx="443" cy="171" r="1.4" fill="#fff" stroke="#b4b4b4" stroke-width="0.8"/>
<circle cx="450" cy="176" r="1.4" fill="#fff" stroke="#b4b4b4" stroke-width="0.8"/>
<circle cx="456" cy="178.5" r="1.4" fill="#fff" stroke="#b4b4b4" stroke-width="0.8"/>
<circle cx="464" cy="173" r="1.4" fill="#fff" stroke="#b4b4b4" stroke-width="0.8"/>
<circle cx="473" cy="167" r="1.4" fill="#fff" stroke="#b4b4b4" stroke-width="0.8"/>
<circle cx="482" cy="163" r="1.4" fill="#fff" stroke="#b4b4b4" stroke-width="0.8"/>
<circle cx="490" cy="160" r="1.4" fill="#fff" stroke="#b4b4b4" stroke-width="0.8"/>
<circle cx="496" cy="158" r="1.4" fill="#fff" stroke="#b4b4b4" stroke-width="0.8"/>
<path d="M367.5,201.3 C367.92,200.67 369.08,198.72 370,197.5 C370.92,196.28 371.92,195.17 373,194 C374.08,192.83 375.33,191.67 376.5,190.5 C377.67,189.33 378.83,188.08 380,187 C381.17,185.92 382.22,184.9 383.5,184 C384.78,183.1 386.48,182.6 387.7,181.6 C388.92,180.6 389.7,179.08 390.8,178 C391.9,176.92 392.82,175.85 394.3,175.1 C395.78,174.35 397.88,173.5 399.7,173.5 C401.52,173.5 403.38,174.2 405.2,175.1 C407.02,176 409.15,177.63 410.6,178.9 C412.05,180.17 412.72,181.6 413.9,182.7 C415.08,183.8 416.3,185.2 417.7,185.5 C419.1,185.8 420.63,185.27 422.3,184.5 C423.97,183.73 426.17,182.07 427.7,180.9 C429.23,179.73 429.92,178.62 431.5,177.5 C433.08,176.38 435.03,175.7 437.2,174.2 C439.37,172.7 441.78,170.9 444.5,168.5 C447.22,166.1 450.08,163 453.5,159.8 C456.92,156.6 463.08,151.05 465,149.3" fill="none" stroke="#9a33ff" stroke-width="1.3" stroke-linejoin="round"/>
<circle cx="367.5" cy="201.3" r="1.65" fill="#fff" stroke="#9a33ff" stroke-width="0.85"/>
<circle cx="370" cy="197.5" r="1.65" fill="#fff" stroke="#9a33ff" stroke-width="0.85"/>
<circle cx="373" cy="194" r="1.65" fill="#fff" stroke="#9a33ff" stroke-width="0.85"/>
<circle cx="376.5" cy="190.5" r="1.65" fill="#fff" stroke="#9a33ff" stroke-width="0.85"/>
<circle cx="380" cy="187" r="1.65" fill="#fff" stroke="#9a33ff" stroke-width="0.85"/>
<circle cx="383.5" cy="184" r="1.65" fill="#fff" stroke="#9a33ff" stroke-width="0.85"/>
<circle cx="387.7" cy="181.6" r="1.65" fill="#fff" stroke="#9a33ff" stroke-width="0.85"/>
<circle cx="390.8" cy="178" r="1.65" fill="#fff" stroke="#9a33ff" stroke-width="0.85"/>
<circle cx="394.3" cy="175.1" r="1.65" fill="#fff" stroke="#9a33ff" stroke-width="0.85"/>
<circle cx="399.7" cy="173.5" r="1.65" fill="#fff" stroke="#9a33ff" stroke-width="0.85"/>
<circle cx="405.2" cy="175.1" r="1.65" fill="#fff" stroke="#9a33ff" stroke-width="0.85"/>
<circle cx="410.6" cy="178.9" r="1.65" fill="#fff" stroke="#9a33ff" stroke-width="0.85"/>
<circle cx="413.9" cy="182.7" r="1.65" fill="#fff" stroke="#9a33ff" stroke-width="0.85"/>
<circle cx="417.7" cy="185.5" r="1.65" fill="#fff" stroke="#9a33ff" stroke-width="0.85"/>
<circle cx="422.3" cy="184.5" r="1.65" fill="#fff" stroke="#9a33ff" stroke-width="0.85"/>
<circle cx="427.7" cy="180.9" r="1.65" fill="#fff" stroke="#9a33ff" stroke-width="0.85"/>
<circle cx="431.5" cy="177.5" r="1.65" fill="#fff" stroke="#9a33ff" stroke-width="0.85"/>
<circle cx="437.2" cy="174.2" r="1.65" fill="#fff" stroke="#9a33ff" stroke-width="0.85"/>
<circle cx="444.5" cy="168.5" r="1.65" fill="#fff" stroke="#9a33ff" stroke-width="0.85"/>
<circle cx="453.5" cy="159.8" r="1.65" fill="#fff" stroke="#9a33ff" stroke-width="0.85"/>
<circle cx="465" cy="149.3" r="1.65" fill="#fff" stroke="#9a33ff" stroke-width="0.85"/>
<path d="M362.6,201.3 C363.17,200.5 364.9,197.97 366,196.5 C367.1,195.03 368.12,193.83 369.2,192.5 C370.28,191.17 371.42,189.77 372.5,188.5 C373.58,187.23 374.62,186.18 375.7,184.9 C376.78,183.62 377.9,182.17 379,180.8 C380.1,179.43 381.3,177.95 382.3,176.7 C383.3,175.45 384.1,174.38 385,173.3 C385.9,172.22 386.62,171.17 387.7,170.2 C388.78,169.23 390.22,168.32 391.5,167.5 C392.78,166.68 393.48,165.53 395.4,165.3 C397.32,165.07 400.47,165.68 403,166.1 C405.53,166.52 408.3,167 410.6,167.8 C412.9,168.6 415.1,169.83 416.8,170.9 C418.5,171.97 419.32,172.97 420.8,174.2 C422.28,175.43 423.78,177.48 425.7,178.3 C427.62,179.12 430.3,179.12 432.3,179.1 C434.3,179.08 435.93,179.02 437.7,178.2 C439.47,177.38 440.67,175.82 442.9,174.2 C445.13,172.58 447.68,170.82 451.1,168.5 C454.52,166.18 459.03,163.3 463.4,160.3 C467.77,157.3 474.98,152.13 477.3,150.5" fill="none" stroke="#138a13" stroke-width="1.3" stroke-linejoin="round"/>
<circle cx="362.6" cy="201.3" r="1.65" fill="#fff" stroke="#138a13" stroke-width="0.85"/>
<circle cx="366" cy="196.5" r="1.65" fill="#fff" stroke="#138a13" stroke-width="0.85"/>
<circle cx="369.2" cy="192.5" r="1.65" fill="#fff" stroke="#138a13" stroke-width="0.85"/>
<circle cx="372.5" cy="188.5" r="1.65" fill="#fff" stroke="#138a13" stroke-width="0.85"/>
<circle cx="375.7" cy="184.9" r="1.65" fill="#fff" stroke="#138a13" stroke-width="0.85"/>
<circle cx="379" cy="180.8" r="1.65" fill="#fff" stroke="#138a13" stroke-width="0.85"/>
<circle cx="382.3" cy="176.7" r="1.65" fill="#fff" stroke="#138a13" stroke-width="0.85"/>
<circle cx="385" cy="173.3" r="1.65" fill="#fff" stroke="#138a13" stroke-width="0.85"/>
<circle cx="387.7" cy="170.2" r="1.65" fill="#fff" stroke="#138a13" stroke-width="0.85"/>
<circle cx="391.5" cy="167.5" r="1.65" fill="#fff" stroke="#138a13" stroke-width="0.85"/>
<circle cx="395.4" cy="165.3" r="1.65" fill="#fff" stroke="#138a13" stroke-width="0.85"/>
<circle cx="403" cy="166.1" r="1.65" fill="#fff" stroke="#138a13" stroke-width="0.85"/>
<circle cx="410.6" cy="167.8" r="1.65" fill="#fff" stroke="#138a13" stroke-width="0.85"/>
<circle cx="416.8" cy="170.9" r="1.65" fill="#fff" stroke="#138a13" stroke-width="0.85"/>
<circle cx="420.8" cy="174.2" r="1.65" fill="#fff" stroke="#138a13" stroke-width="0.85"/>
<circle cx="425.7" cy="178.3" r="1.65" fill="#fff" stroke="#138a13" stroke-width="0.85"/>
<circle cx="432.3" cy="179.1" r="1.65" fill="#fff" stroke="#138a13" stroke-width="0.85"/>
<circle cx="437.7" cy="178.2" r="1.65" fill="#fff" stroke="#138a13" stroke-width="0.85"/>
<circle cx="442.9" cy="174.2" r="1.65" fill="#fff" stroke="#138a13" stroke-width="0.85"/>
<circle cx="451.1" cy="168.5" r="1.65" fill="#fff" stroke="#138a13" stroke-width="0.85"/>
<circle cx="463.4" cy="160.3" r="1.65" fill="#fff" stroke="#138a13" stroke-width="0.85"/>
<circle cx="477.3" cy="150.5" r="1.65" fill="#fff" stroke="#138a13" stroke-width="0.85"/>
<path d="M366.5,201.3 C367,200.58 368.42,198.35 369.5,197 C370.58,195.65 371.83,194.45 373,193.2 C374.17,191.95 375.33,190.78 376.5,189.5 C377.67,188.22 378.83,186.75 380,185.5 C381.17,184.25 382.4,183 383.5,182 C384.6,181 385.17,180.92 386.6,179.5 C388.03,178.08 390.28,174.97 392.1,173.5 C393.92,172.03 395.5,170.98 397.5,170.7 C399.5,170.42 402.1,171.33 404.1,171.8 C406.1,172.27 407.87,172.77 409.5,173.5 C411.13,174.23 412.38,175.12 413.9,176.2 C415.42,177.28 417.32,178.97 418.6,180 C419.88,181.03 420.42,182.13 421.6,182.4 C422.78,182.67 424.07,182 425.7,181.6 C427.33,181.2 429.48,180.83 431.4,180 C433.32,179.17 435.15,177.78 437.2,176.6 C439.25,175.42 441.23,174.53 443.7,172.9 C446.17,171.27 448.58,169.45 452,166.8 C455.42,164.15 460.12,160.4 464.2,157 C468.28,153.6 474.45,148.17 476.5,146.4" fill="none" stroke="#2020ff" stroke-width="1.3" stroke-linejoin="round"/>
<circle cx="366.5" cy="201.3" r="1.65" fill="#fff" stroke="#2020ff" stroke-width="0.85"/>
<circle cx="369.5" cy="197" r="1.65" fill="#fff" stroke="#2020ff" stroke-width="0.85"/>
<circle cx="373" cy="193.2" r="1.65" fill="#fff" stroke="#2020ff" stroke-width="0.85"/>
<circle cx="376.5" cy="189.5" r="1.65" fill="#fff" stroke="#2020ff" stroke-width="0.85"/>
<circle cx="380" cy="185.5" r="1.65" fill="#fff" stroke="#2020ff" stroke-width="0.85"/>
<circle cx="383.5" cy="182" r="1.65" fill="#fff" stroke="#2020ff" stroke-width="0.85"/>
<circle cx="386.6" cy="179.5" r="1.65" fill="#fff" stroke="#2020ff" stroke-width="0.85"/>
<circle cx="392.1" cy="173.5" r="1.65" fill="#fff" stroke="#2020ff" stroke-width="0.85"/>
<circle cx="397.5" cy="170.7" r="1.65" fill="#fff" stroke="#2020ff" stroke-width="0.85"/>
<circle cx="404.1" cy="171.8" r="1.65" fill="#fff" stroke="#2020ff" stroke-width="0.85"/>
<circle cx="409.5" cy="173.5" r="1.65" fill="#fff" stroke="#2020ff" stroke-width="0.85"/>
<circle cx="413.9" cy="176.2" r="1.65" fill="#fff" stroke="#2020ff" stroke-width="0.85"/>
<circle cx="418.6" cy="180" r="1.65" fill="#fff" stroke="#2020ff" stroke-width="0.85"/>
<circle cx="421.6" cy="182.4" r="1.65" fill="#fff" stroke="#2020ff" stroke-width="0.85"/>
<circle cx="425.7" cy="181.6" r="1.65" fill="#fff" stroke="#2020ff" stroke-width="0.85"/>
<circle cx="431.4" cy="180" r="1.65" fill="#fff" stroke="#2020ff" stroke-width="0.85"/>
<circle cx="437.2" cy="176.6" r="1.65" fill="#fff" stroke="#2020ff" stroke-width="0.85"/>
<circle cx="443.7" cy="172.9" r="1.65" fill="#fff" stroke="#2020ff" stroke-width="0.85"/>
<circle cx="452" cy="166.8" r="1.65" fill="#fff" stroke="#2020ff" stroke-width="0.85"/>
<circle cx="464.2" cy="157" r="1.65" fill="#fff" stroke="#2020ff" stroke-width="0.85"/>
<circle cx="476.5" cy="146.4" r="1.65" fill="#fff" stroke="#2020ff" stroke-width="0.85"/>
<path d="M365.9,200.7 C366.25,200.17 367.27,198.5 368,197.5 C368.73,196.5 369.38,195.62 370.3,194.7 C371.22,193.78 372.42,192.9 373.5,192 C374.58,191.1 375.88,190.22 376.8,189.3 C377.72,188.38 378.27,187.42 379,186.5 C379.73,185.58 380.52,184.68 381.2,183.8 C381.88,182.92 382.47,182.07 383.1,181.2 C383.73,180.33 384.37,179.47 385,178.6 C385.63,177.73 386.27,176.85 386.9,176 C387.53,175.15 388.03,174.45 388.8,173.5 C389.57,172.55 390.58,171.3 391.5,170.3 C392.42,169.3 393.22,168.3 394.3,167.5 C395.38,166.7 396.73,166.08 398,165.5 C399.27,164.92 399.88,164.4 401.9,164 C403.92,163.6 407.47,162.85 410.1,163.1 C412.73,163.35 415.92,164.88 417.7,165.5 C419.48,166.12 419.6,166.22 420.8,166.8 C422,167.38 423.4,167.9 424.9,169 C426.4,170.1 428.37,172.23 429.8,173.4 C431.23,174.57 432.27,175.32 433.5,176 C434.73,176.68 435.9,177.12 437.2,177.5 C438.5,177.88 440.08,178.3 441.3,178.3 C442.52,178.3 443,178.32 444.5,177.5 C446,176.68 448.25,174.9 450.3,173.4 C452.35,171.9 454.22,170.68 456.8,168.5 C459.38,166.32 462.93,163.45 465.8,160.3 C468.67,157.15 472.63,151.38 474,149.6" fill="none" stroke="#ff2222" stroke-width="1.3" stroke-linejoin="round"/>
<circle cx="365.9" cy="200.7" r="1.65" fill="#fff" stroke="#ff2222" stroke-width="0.85"/>
<circle cx="368" cy="197.5" r="1.65" fill="#fff" stroke="#ff2222" stroke-width="0.85"/>
<circle cx="370.3" cy="194.7" r="1.65" fill="#fff" stroke="#ff2222" stroke-width="0.85"/>
<circle cx="373.5" cy="192" r="1.65" fill="#fff" stroke="#ff2222" stroke-width="0.85"/>
<circle cx="376.8" cy="189.3" r="1.65" fill="#fff" stroke="#ff2222" stroke-width="0.85"/>
<circle cx="379" cy="186.5" r="1.65" fill="#fff" stroke="#ff2222" stroke-width="0.85"/>
<circle cx="381.2" cy="183.8" r="1.65" fill="#fff" stroke="#ff2222" stroke-width="0.85"/>
<circle cx="383.1" cy="181.2" r="1.65" fill="#fff" stroke="#ff2222" stroke-width="0.85"/>
<circle cx="385" cy="178.6" r="1.65" fill="#fff" stroke="#ff2222" stroke-width="0.85"/>
<circle cx="386.9" cy="176" r="1.65" fill="#fff" stroke="#ff2222" stroke-width="0.85"/>
<circle cx="391.5" cy="170.3" r="1.65" fill="#fff" stroke="#ff2222" stroke-width="0.85"/>
<circle cx="394.3" cy="167.5" r="1.65" fill="#fff" stroke="#ff2222" stroke-width="0.85"/>
<circle cx="398" cy="165.5" r="1.65" fill="#fff" stroke="#ff2222" stroke-width="0.85"/>
<circle cx="401.9" cy="164" r="1.65" fill="#fff" stroke="#ff2222" stroke-width="0.85"/>
<circle cx="410.1" cy="163.1" r="1.65" fill="#fff" stroke="#ff2222" stroke-width="0.85"/>
<circle cx="417.7" cy="165.5" r="1.65" fill="#fff" stroke="#ff2222" stroke-width="0.85"/>
<circle cx="420.8" cy="166.8" r="1.65" fill="#fff" stroke="#ff2222" stroke-width="0.85"/>
<circle cx="424.9" cy="169" r="1.65" fill="#fff" stroke="#ff2222" stroke-width="0.85"/>
<circle cx="429.8" cy="173.4" r="1.65" fill="#fff" stroke="#ff2222" stroke-width="0.85"/>
<circle cx="433.5" cy="176" r="1.65" fill="#fff" stroke="#ff2222" stroke-width="0.85"/>
<circle cx="437.2" cy="177.5" r="1.65" fill="#fff" stroke="#ff2222" stroke-width="0.85"/>
<circle cx="441.3" cy="178.3" r="1.65" fill="#fff" stroke="#ff2222" stroke-width="0.85"/>
<circle cx="444.5" cy="177.5" r="1.65" fill="#fff" stroke="#ff2222" stroke-width="0.85"/>
<circle cx="450.3" cy="173.4" r="1.65" fill="#fff" stroke="#ff2222" stroke-width="0.85"/>
<circle cx="456.8" cy="168.5" r="1.65" fill="#fff" stroke="#ff2222" stroke-width="0.85"/>
<circle cx="465.8" cy="160.3" r="1.65" fill="#fff" stroke="#ff2222" stroke-width="0.85"/>
<circle cx="474" cy="149.6" r="1.65" fill="#fff" stroke="#ff2222" stroke-width="0.85"/>
<line x1="422.5" y1="193.1" x2="422.5" y2="201.6" stroke="#7f7fd0" stroke-width="1.1" />
<polygon points="419.5,194.4 425.5,194.4 422.5,188.1" fill="#22229a"/>
<line x1="431.1" y1="190.6" x2="431.1" y2="201.6" stroke="#7f7fd0" stroke-width="1.1" />
<polygon points="428.1,191.9 434.1,191.9 431.1,185.6" fill="#22229a"/>
<line x1="438.5" y1="188.2" x2="438.5" y2="201.6" stroke="#7f7fd0" stroke-width="1.1" />
<polygon points="435.5,189.5 441.5,189.5 438.5,183.2" fill="#22229a"/>
<line x1="446.2" y1="188.2" x2="446.2" y2="201.6" stroke="#7f7fd0" stroke-width="1.1" />
<polygon points="443.2,189.5 449.2,189.5 446.2,183.2" fill="#22229a"/>
<text x="462.2" y="188.9" font-size="12" font-family='"Liberation Sans", sans-serif' fill="#22229a" font-weight="bold" textLength="42.9" lengthAdjust="spacingAndGlyphs" stroke="#22229a" stroke-width="0.1" >0.147 Hz</text>
<rect x="55.1" y="241.4" width="216.6" height="177.5" fill="none" stroke="#1a1a1a" stroke-width="1.3"/>
<line x1="55.1" y1="418.9" x2="55.1" y2="422.1" stroke="#1a1a1a" stroke-width="1.1" />
<line x1="71.4" y1="418.9" x2="71.4" y2="420.9" stroke="#1a1a1a" stroke-width="1.1" />
<line x1="80.94" y1="418.9" x2="80.94" y2="420.9" stroke="#1a1a1a" stroke-width="1.1" />
<line x1="87.7" y1="418.9" x2="87.7" y2="420.9" stroke="#1a1a1a" stroke-width="1.1" />
<line x1="92.95" y1="418.9" x2="92.95" y2="420.9" stroke="#1a1a1a" stroke-width="1.1" />
<line x1="97.24" y1="418.9" x2="97.24" y2="420.9" stroke="#1a1a1a" stroke-width="1.1" />
<line x1="100.86" y1="418.9" x2="100.86" y2="420.9" stroke="#1a1a1a" stroke-width="1.1" />
<line x1="104" y1="418.9" x2="104" y2="420.9" stroke="#1a1a1a" stroke-width="1.1" />
<line x1="106.77" y1="418.9" x2="106.77" y2="420.9" stroke="#1a1a1a" stroke-width="1.1" />
<line x1="109.25" y1="418.9" x2="109.25" y2="422.1" stroke="#1a1a1a" stroke-width="1.1" />
<line x1="125.55" y1="418.9" x2="125.55" y2="420.9" stroke="#1a1a1a" stroke-width="1.1" />
<line x1="135.09" y1="418.9" x2="135.09" y2="420.9" stroke="#1a1a1a" stroke-width="1.1" />
<line x1="141.85" y1="418.9" x2="141.85" y2="420.9" stroke="#1a1a1a" stroke-width="1.1" />
<line x1="147.1" y1="418.9" x2="147.1" y2="420.9" stroke="#1a1a1a" stroke-width="1.1" />
<line x1="151.39" y1="418.9" x2="151.39" y2="420.9" stroke="#1a1a1a" stroke-width="1.1" />
<line x1="155.01" y1="418.9" x2="155.01" y2="420.9" stroke="#1a1a1a" stroke-width="1.1" />
<line x1="158.15" y1="418.9" x2="158.15" y2="420.9" stroke="#1a1a1a" stroke-width="1.1" />
<line x1="160.92" y1="418.9" x2="160.92" y2="420.9" stroke="#1a1a1a" stroke-width="1.1" />
<line x1="163.4" y1="418.9" x2="163.4" y2="422.1" stroke="#1a1a1a" stroke-width="1.1" />
<line x1="179.7" y1="418.9" x2="179.7" y2="420.9" stroke="#1a1a1a" stroke-width="1.1" />
<line x1="189.24" y1="418.9" x2="189.24" y2="420.9" stroke="#1a1a1a" stroke-width="1.1" />
<line x1="196" y1="418.9" x2="196" y2="420.9" stroke="#1a1a1a" stroke-width="1.1" />
<line x1="201.25" y1="418.9" x2="201.25" y2="420.9" stroke="#1a1a1a" stroke-width="1.1" />
<line x1="205.54" y1="418.9" x2="205.54" y2="420.9" stroke="#1a1a1a" stroke-width="1.1" />
<line x1="209.16" y1="418.9" x2="209.16" y2="420.9" stroke="#1a1a1a" stroke-width="1.1" />
<line x1="212.3" y1="418.9" x2="212.3" y2="420.9" stroke="#1a1a1a" stroke-width="1.1" />
<line x1="215.07" y1="418.9" x2="215.07" y2="420.9" stroke="#1a1a1a" stroke-width="1.1" />
<line x1="217.55" y1="418.9" x2="217.55" y2="422.1" stroke="#1a1a1a" stroke-width="1.1" />
<line x1="233.85" y1="418.9" x2="233.85" y2="420.9" stroke="#1a1a1a" stroke-width="1.1" />
<line x1="243.39" y1="418.9" x2="243.39" y2="420.9" stroke="#1a1a1a" stroke-width="1.1" />
<line x1="250.15" y1="418.9" x2="250.15" y2="420.9" stroke="#1a1a1a" stroke-width="1.1" />
<line x1="255.4" y1="418.9" x2="255.4" y2="420.9" stroke="#1a1a1a" stroke-width="1.1" />
<line x1="259.69" y1="418.9" x2="259.69" y2="420.9" stroke="#1a1a1a" stroke-width="1.1" />
<line x1="263.31" y1="418.9" x2="263.31" y2="420.9" stroke="#1a1a1a" stroke-width="1.1" />
<line x1="266.45" y1="418.9" x2="266.45" y2="420.9" stroke="#1a1a1a" stroke-width="1.1" />
<line x1="269.22" y1="418.9" x2="269.22" y2="420.9" stroke="#1a1a1a" stroke-width="1.1" />
<line x1="271.7" y1="418.9" x2="271.7" y2="422.1" stroke="#1a1a1a" stroke-width="1.1" />
<text x="55.1" y="431.7" font-size="10" font-family='"Liberation Sans", sans-serif' fill="#3a3a3a" text-anchor="middle" textLength="12.79" lengthAdjust="spacingAndGlyphs" stroke="#3a3a3a" stroke-width="0.1" >0.1</text>
<text x="109.25" y="431.7" font-size="10" font-family='"Liberation Sans", sans-serif' fill="#3a3a3a" text-anchor="middle" textLength="5.12" lengthAdjust="spacingAndGlyphs" stroke="#3a3a3a" stroke-width="0.1" >1</text>
<text x="163.4" y="431.7" font-size="10" font-family='"Liberation Sans", sans-serif' fill="#3a3a3a" text-anchor="middle" textLength="10.23" lengthAdjust="spacingAndGlyphs" stroke="#3a3a3a" stroke-width="0.1" >10</text>
<text x="217.55" y="431.7" font-size="10" font-family='"Liberation Sans", sans-serif' fill="#3a3a3a" text-anchor="middle" textLength="15.35" lengthAdjust="spacingAndGlyphs" stroke="#3a3a3a" stroke-width="0.1" >100</text>
<text x="271.7" y="431.7" font-size="10" font-family='"Liberation Sans", sans-serif' fill="#3a3a3a" text-anchor="middle" textLength="20.47" lengthAdjust="spacingAndGlyphs" stroke="#3a3a3a" stroke-width="0.1" >1000</text>
<line x1="55.1" y1="418.9" x2="51.9" y2="418.9" stroke="#1a1a1a" stroke-width="1.1" />
<text x="48.8" y="422.3" font-size="10" font-family='"Liberation Sans", sans-serif' fill="#3a3a3a" text-anchor="end" textLength="5.12" lengthAdjust="spacingAndGlyphs" stroke="#3a3a3a" stroke-width="0.1" >0</text>
<line x1="55.1" y1="410.02" x2="53.1" y2="410.02" stroke="#1a1a1a" stroke-width="1.1" />
<line x1="55.1" y1="401.15" x2="51.9" y2="401.15" stroke="#1a1a1a" stroke-width="1.1" />
<text x="48.8" y="404.55" font-size="10" font-family='"Liberation Sans", sans-serif' fill="#3a3a3a" text-anchor="end" textLength="5.12" lengthAdjust="spacingAndGlyphs" stroke="#3a3a3a" stroke-width="0.1" >1</text>
<line x1="55.1" y1="392.27" x2="53.1" y2="392.27" stroke="#1a1a1a" stroke-width="1.1" />
<line x1="55.1" y1="383.4" x2="51.9" y2="383.4" stroke="#1a1a1a" stroke-width="1.1" />
<text x="48.8" y="386.8" font-size="10" font-family='"Liberation Sans", sans-serif' fill="#3a3a3a" text-anchor="end" textLength="5.12" lengthAdjust="spacingAndGlyphs" stroke="#3a3a3a" stroke-width="0.1" >2</text>
<line x1="55.1" y1="374.52" x2="53.1" y2="374.52" stroke="#1a1a1a" stroke-width="1.1" />
<line x1="55.1" y1="365.65" x2="51.9" y2="365.65" stroke="#1a1a1a" stroke-width="1.1" />
<text x="48.8" y="369.05" font-size="10" font-family='"Liberation Sans", sans-serif' fill="#3a3a3a" text-anchor="end" textLength="5.12" lengthAdjust="spacingAndGlyphs" stroke="#3a3a3a" stroke-width="0.1" >3</text>
<line x1="55.1" y1="356.77" x2="53.1" y2="356.77" stroke="#1a1a1a" stroke-width="1.1" />
<line x1="55.1" y1="347.9" x2="51.9" y2="347.9" stroke="#1a1a1a" stroke-width="1.1" />
<text x="48.8" y="351.3" font-size="10" font-family='"Liberation Sans", sans-serif' fill="#3a3a3a" text-anchor="end" textLength="5.12" lengthAdjust="spacingAndGlyphs" stroke="#3a3a3a" stroke-width="0.1" >4</text>
<line x1="55.1" y1="339.02" x2="53.1" y2="339.02" stroke="#1a1a1a" stroke-width="1.1" />
<line x1="55.1" y1="330.15" x2="51.9" y2="330.15" stroke="#1a1a1a" stroke-width="1.1" />
<text x="48.8" y="333.55" font-size="10" font-family='"Liberation Sans", sans-serif' fill="#3a3a3a" text-anchor="end" textLength="5.12" lengthAdjust="spacingAndGlyphs" stroke="#3a3a3a" stroke-width="0.1" >5</text>
<line x1="55.1" y1="321.27" x2="53.1" y2="321.27" stroke="#1a1a1a" stroke-width="1.1" />
<line x1="55.1" y1="312.4" x2="51.9" y2="312.4" stroke="#1a1a1a" stroke-width="1.1" />
<text x="48.8" y="315.8" font-size="10" font-family='"Liberation Sans", sans-serif' fill="#3a3a3a" text-anchor="end" textLength="5.12" lengthAdjust="spacingAndGlyphs" stroke="#3a3a3a" stroke-width="0.1" >6</text>
<line x1="55.1" y1="303.52" x2="53.1" y2="303.52" stroke="#1a1a1a" stroke-width="1.1" />
<line x1="55.1" y1="294.65" x2="51.9" y2="294.65" stroke="#1a1a1a" stroke-width="1.1" />
<text x="48.8" y="298.05" font-size="10" font-family='"Liberation Sans", sans-serif' fill="#3a3a3a" text-anchor="end" textLength="5.12" lengthAdjust="spacingAndGlyphs" stroke="#3a3a3a" stroke-width="0.1" >7</text>
<line x1="55.1" y1="285.77" x2="53.1" y2="285.77" stroke="#1a1a1a" stroke-width="1.1" />
<line x1="55.1" y1="276.9" x2="51.9" y2="276.9" stroke="#1a1a1a" stroke-width="1.1" />
<text x="48.8" y="280.3" font-size="10" font-family='"Liberation Sans", sans-serif' fill="#3a3a3a" text-anchor="end" textLength="5.12" lengthAdjust="spacingAndGlyphs" stroke="#3a3a3a" stroke-width="0.1" >8</text>
<line x1="55.1" y1="268.02" x2="53.1" y2="268.02" stroke="#1a1a1a" stroke-width="1.1" />
<line x1="55.1" y1="259.15" x2="51.9" y2="259.15" stroke="#1a1a1a" stroke-width="1.1" />
<text x="48.8" y="262.55" font-size="10" font-family='"Liberation Sans", sans-serif' fill="#3a3a3a" text-anchor="end" textLength="5.12" lengthAdjust="spacingAndGlyphs" stroke="#3a3a3a" stroke-width="0.1" >9</text>
<line x1="55.1" y1="250.28" x2="53.1" y2="250.28" stroke="#1a1a1a" stroke-width="1.1" />
<line x1="55.1" y1="241.4" x2="51.9" y2="241.4" stroke="#1a1a1a" stroke-width="1.1" />
<text x="48.8" y="244.8" font-size="10" font-family='"Liberation Sans", sans-serif' fill="#3a3a3a" text-anchor="end" textLength="10.23" lengthAdjust="spacingAndGlyphs" stroke="#3a3a3a" stroke-width="0.1" >10</text>
<text x="10" y="249.4" font-size="15.9" font-family='"Liberation Serif", serif' fill="#111" font-weight="bold" textLength="17.6" lengthAdjust="spacingAndGlyphs" >(c)</text>
<text x="232.2" y="262.9" font-size="15.5" font-family='"Liberation Serif", serif' fill="#111" font-weight="bold" textLength="26" lengthAdjust="spacingAndGlyphs" >LIB</text>
<text x="35" y="330.5" font-size="9.2" font-family='"Liberation Sans", sans-serif' fill="#333" text-anchor="middle" stroke="#333" stroke-width="0.1" transform="rotate(-90 35 330.5)" >-Z'' (Ω Cm<tspan font-size='6' dy='-3.5'>2</tspan><tspan dy='3.5'>)</tspan></text>
<text x="161" y="441.6" font-size="10.2" font-family='"Liberation Sans", sans-serif' fill="#222" text-anchor="middle" textLength="61.3" lengthAdjust="spacingAndGlyphs" stroke="#222" stroke-width="0.1" >Frequency (Hz)</text>
<line x1="61.5" y1="250.8" x2="76.3" y2="250.8" stroke="#9a33ff" stroke-width="1.1" />
<circle cx="68.9" cy="250.8" r="1.8" fill="#fff" stroke="#9a33ff" stroke-width="0.9"/>
<text x="77.9" y="253.2" font-size="7.2" font-family='"Liberation Sans", sans-serif' fill="#222" textLength="134.2" lengthAdjust="spacingAndGlyphs" stroke="#222" stroke-width="0.1" >Samsung 18650 30Q - After Charged (4.14 V)</text>
<line x1="61.5" y1="258.77" x2="76.3" y2="258.77" stroke="#2020ff" stroke-width="1.1" />
<circle cx="68.9" cy="258.77" r="1.8" fill="#fff" stroke="#2020ff" stroke-width="0.9"/>
<text x="77.9" y="261.17" font-size="7.2" font-family='"Liberation Sans", sans-serif' fill="#222" textLength="40.4" lengthAdjust="spacingAndGlyphs" stroke="#222" stroke-width="0.1" >After 14 Cycle</text>
<line x1="61.5" y1="266.74" x2="76.3" y2="266.74" stroke="#138a13" stroke-width="1.1" />
<circle cx="68.9" cy="266.74" r="1.8" fill="#fff" stroke="#138a13" stroke-width="0.9"/>
<text x="77.9" y="269.14" font-size="7.2" font-family='"Liberation Sans", sans-serif' fill="#222" textLength="40.4" lengthAdjust="spacingAndGlyphs" stroke="#222" stroke-width="0.1" >After 28 Cycle</text>
<line x1="61.5" y1="274.71" x2="76.3" y2="274.71" stroke="#ff2222" stroke-width="1.1" />
<circle cx="68.9" cy="274.71" r="1.8" fill="#fff" stroke="#ff2222" stroke-width="0.9"/>
<text x="77.9" y="277.11" font-size="7.2" font-family='"Liberation Sans", sans-serif' fill="#222" textLength="40.4" lengthAdjust="spacingAndGlyphs" stroke="#222" stroke-width="0.1" >After 42 Cycle</text>
<path d="M55,382.6 C56.5,382.67 61,383.27 64,383 C67,382.73 70,382.07 73,381 C76,379.93 79,378.43 82,376.6 C85,374.77 88,372.33 91,370 C94,367.67 97,365 100,362.6 C103,360.2 106,357.27 109,355.6 C112,353.93 115,352.7 118,352.6 C121,352.5 124,353.1 127,355 C130,356.9 133,361.6 136,364 C139,366.4 142,366.97 145,369.4 C148,371.83 151,376.07 154,378.6 C157,381.13 159.92,382.97 163,384.6 C166.08,386.23 169.33,387.4 172.5,388.4 C175.67,389.4 178.95,390.05 182,390.6 C185.05,391.15 187.85,391.38 190.8,391.7 C193.75,392.02 196.73,392.25 199.7,392.5 C202.67,392.75 205.63,392.95 208.6,393.2 C211.57,393.45 214.45,393.63 217.5,394 C220.55,394.37 223.77,394.73 226.9,395.4 C230.03,396.07 233.33,396.87 236.3,398 C239.27,399.13 241.75,400.62 244.7,402.2 C247.65,403.78 250.97,405.6 254,407.5 C257.03,409.4 260.82,411.7 262.9,413.6 C264.98,415.5 265.9,418.02 266.5,418.9" fill="none" stroke="#9a33ff" stroke-width="1.5" stroke-linejoin="round"/>
<circle cx="55" cy="382.6" r="1.65" fill="#fff" stroke="#9a33ff" stroke-width="0.85"/>
<circle cx="64" cy="383" r="1.65" fill="#fff" stroke="#9a33ff" stroke-width="0.85"/>
<circle cx="73" cy="381" r="1.65" fill="#fff" stroke="#9a33ff" stroke-width="0.85"/>
<circle cx="82" cy="376.6" r="1.65" fill="#fff" stroke="#9a33ff" stroke-width="0.85"/>
<circle cx="91" cy="370" r="1.65" fill="#fff" stroke="#9a33ff" stroke-width="0.85"/>
<circle cx="100" cy="362.6" r="1.65" fill="#fff" stroke="#9a33ff" stroke-width="0.85"/>
<circle cx="109" cy="355.6" r="1.65" fill="#fff" stroke="#9a33ff" stroke-width="0.85"/>
<circle cx="118" cy="352.6" r="1.65" fill="#fff" stroke="#9a33ff" stroke-width="0.85"/>
<circle cx="127" cy="355" r="1.65" fill="#fff" stroke="#9a33ff" stroke-width="0.85"/>
<circle cx="136" cy="364" r="1.65" fill="#fff" stroke="#9a33ff" stroke-width="0.85"/>
<circle cx="145" cy="369.4" r="1.65" fill="#fff" stroke="#9a33ff" stroke-width="0.85"/>
<circle cx="154" cy="378.6" r="1.65" fill="#fff" stroke="#9a33ff" stroke-width="0.85"/>
<circle cx="163" cy="384.6" r="1.65" fill="#fff" stroke="#9a33ff" stroke-width="0.85"/>
<circle cx="172.5" cy="388.4" r="1.65" fill="#fff" stroke="#9a33ff" stroke-width="0.85"/>
<circle cx="182" cy="390.6" r="1.65" fill="#fff" stroke="#9a33ff" stroke-width="0.85"/>
<circle cx="190.8" cy="391.7" r="1.65" fill="#fff" stroke="#9a33ff" stroke-width="0.85"/>
<circle cx="199.7" cy="392.5" r="1.65" fill="#fff" stroke="#9a33ff" stroke-width="0.85"/>
<circle cx="208.6" cy="393.2" r="1.65" fill="#fff" stroke="#9a33ff" stroke-width="0.85"/>
<circle cx="217.5" cy="394" r="1.65" fill="#fff" stroke="#9a33ff" stroke-width="0.85"/>
<circle cx="226.9" cy="395.4" r="1.65" fill="#fff" stroke="#9a33ff" stroke-width="0.85"/>
<circle cx="236.3" cy="398" r="1.65" fill="#fff" stroke="#9a33ff" stroke-width="0.85"/>
<circle cx="244.7" cy="402.2" r="1.65" fill="#fff" stroke="#9a33ff" stroke-width="0.85"/>
<circle cx="254" cy="407.5" r="1.65" fill="#fff" stroke="#9a33ff" stroke-width="0.85"/>
<circle cx="262.9" cy="413.6" r="1.65" fill="#fff" stroke="#9a33ff" stroke-width="0.85"/>
<circle cx="266.5" cy="418.9" r="1.65" fill="#fff" stroke="#9a33ff" stroke-width="0.85"/>
<path d="M55,372 C56.5,371.57 61,370.8 64,369.4 C67,368 70,365.9 73,363.6 C76,361.3 79,358.43 82,355.6 C85,352.77 88,349.2 91,346.6 C94,344 97,341.2 100,340 C103,338.8 106,338.57 109,339.4 C112,340.23 115,342.23 118,345 C121,347.77 124,352.5 127,356 C130,359.5 133,362.42 136,366 C139,369.58 142,374.22 145,377.5 C148,380.78 151,383.42 154,385.7 C157,387.98 159.92,389.75 163,391.2 C166.08,392.65 169.33,393.58 172.5,394.4 C175.67,395.22 178.95,395.58 182,396.1 C185.05,396.62 187.85,397.1 190.8,397.5 C193.75,397.9 196.73,398.22 199.7,398.5 C202.67,398.78 205.63,398.98 208.6,399.2 C211.57,399.42 214.45,399.5 217.5,399.8 C220.55,400.1 223.77,400.38 226.9,401 C230.03,401.62 233.33,402.53 236.3,403.5 C239.27,404.47 241.75,405.55 244.7,406.8 C247.65,408.05 250.97,409.38 254,411 C257.03,412.62 260.9,415.18 262.9,416.5 C264.9,417.82 265.48,418.5 266,418.9" fill="none" stroke="#2020ff" stroke-width="1.5" stroke-linejoin="round"/>
<circle cx="55" cy="372" r="1.65" fill="#fff" stroke="#2020ff" stroke-width="0.85"/>
<circle cx="64" cy="369.4" r="1.65" fill="#fff" stroke="#2020ff" stroke-width="0.85"/>
<circle cx="73" cy="363.6" r="1.65" fill="#fff" stroke="#2020ff" stroke-width="0.85"/>
<circle cx="82" cy="355.6" r="1.65" fill="#fff" stroke="#2020ff" stroke-width="0.85"/>
<circle cx="91" cy="346.6" r="1.65" fill="#fff" stroke="#2020ff" stroke-width="0.85"/>
<circle cx="100" cy="340" r="1.65" fill="#fff" stroke="#2020ff" stroke-width="0.85"/>
<circle cx="109" cy="339.4" r="1.65" fill="#fff" stroke="#2020ff" stroke-width="0.85"/>
<circle cx="118" cy="345" r="1.65" fill="#fff" stroke="#2020ff" stroke-width="0.85"/>
<circle cx="127" cy="356" r="1.65" fill="#fff" stroke="#2020ff" stroke-width="0.85"/>
<circle cx="136" cy="366" r="1.65" fill="#fff" stroke="#2020ff" stroke-width="0.85"/>
<circle cx="145" cy="377.5" r="1.65" fill="#fff" stroke="#2020ff" stroke-width="0.85"/>
<circle cx="154" cy="385.7" r="1.65" fill="#fff" stroke="#2020ff" stroke-width="0.85"/>
<circle cx="163" cy="391.2" r="1.65" fill="#fff" stroke="#2020ff" stroke-width="0.85"/>
<circle cx="172.5" cy="394.4" r="1.65" fill="#fff" stroke="#2020ff" stroke-width="0.85"/>
<circle cx="182" cy="396.1" r="1.65" fill="#fff" stroke="#2020ff" stroke-width="0.85"/>
<circle cx="190.8" cy="397.5" r="1.65" fill="#fff" stroke="#2020ff" stroke-width="0.85"/>
<circle cx="199.7" cy="398.5" r="1.65" fill="#fff" stroke="#2020ff" stroke-width="0.85"/>
<circle cx="208.6" cy="399.2" r="1.65" fill="#fff" stroke="#2020ff" stroke-width="0.85"/>
<circle cx="217.5" cy="399.8" r="1.65" fill="#fff" stroke="#2020ff" stroke-width="0.85"/>
<circle cx="226.9" cy="401" r="1.65" fill="#fff" stroke="#2020ff" stroke-width="0.85"/>
<circle cx="236.3" cy="403.5" r="1.65" fill="#fff" stroke="#2020ff" stroke-width="0.85"/>
<circle cx="244.7" cy="406.8" r="1.65" fill="#fff" stroke="#2020ff" stroke-width="0.85"/>
<circle cx="254" cy="411" r="1.65" fill="#fff" stroke="#2020ff" stroke-width="0.85"/>
<circle cx="262.9" cy="416.5" r="1.65" fill="#fff" stroke="#2020ff" stroke-width="0.85"/>
<circle cx="266" cy="418.9" r="1.65" fill="#fff" stroke="#2020ff" stroke-width="0.85"/>
<path d="M55,367 C56.5,366.33 61,364.9 64,363 C67,361.1 70,358.5 73,355.6 C76,352.7 79,349.03 82,345.6 C85,342.17 88,338.1 91,335 C94,331.9 97,328.5 100,327 C103,325.5 106,324.73 109,326 C112,327.27 115,331.17 118,334.6 C121,338.03 124,342.2 127,346.6 C130,351 133,356.77 136,361 C139,365.23 142,368.7 145,372 C148,375.3 151,378.33 154,380.8 C157,383.27 159.92,385.25 163,386.8 C166.08,388.35 169.33,389.18 172.5,390.1 C175.67,391.02 178.95,391.72 182,392.3 C185.05,392.88 187.85,393.27 190.8,393.6 C193.75,393.93 196.73,394.08 199.7,394.3 C202.67,394.52 205.63,394.68 208.6,394.9 C211.57,395.12 214.45,395.25 217.5,395.6 C220.55,395.95 223.77,396.33 226.9,397 C230.03,397.67 233.33,398.52 236.3,399.6 C239.27,400.68 241.75,402.02 244.7,403.5 C247.65,404.98 250.97,406.67 254,408.5 C257.03,410.33 260.9,412.77 262.9,414.5 C264.9,416.23 265.48,418.17 266,418.9" fill="none" stroke="#138a13" stroke-width="1.5" stroke-linejoin="round"/>
<circle cx="55" cy="367" r="1.65" fill="#fff" stroke="#138a13" stroke-width="0.85"/>
<circle cx="64" cy="363" r="1.65" fill="#fff" stroke="#138a13" stroke-width="0.85"/>
<circle cx="73" cy="355.6" r="1.65" fill="#fff" stroke="#138a13" stroke-width="0.85"/>
<circle cx="82" cy="345.6" r="1.65" fill="#fff" stroke="#138a13" stroke-width="0.85"/>
<circle cx="91" cy="335" r="1.65" fill="#fff" stroke="#138a13" stroke-width="0.85"/>
<circle cx="100" cy="327" r="1.65" fill="#fff" stroke="#138a13" stroke-width="0.85"/>
<circle cx="109" cy="326" r="1.65" fill="#fff" stroke="#138a13" stroke-width="0.85"/>
<circle cx="118" cy="334.6" r="1.65" fill="#fff" stroke="#138a13" stroke-width="0.85"/>
<circle cx="127" cy="346.6" r="1.65" fill="#fff" stroke="#138a13" stroke-width="0.85"/>
<circle cx="136" cy="361" r="1.65" fill="#fff" stroke="#138a13" stroke-width="0.85"/>
<circle cx="145" cy="372" r="1.65" fill="#fff" stroke="#138a13" stroke-width="0.85"/>
<circle cx="154" cy="380.8" r="1.65" fill="#fff" stroke="#138a13" stroke-width="0.85"/>
<circle cx="163" cy="386.8" r="1.65" fill="#fff" stroke="#138a13" stroke-width="0.85"/>
<circle cx="172.5" cy="390.1" r="1.65" fill="#fff" stroke="#138a13" stroke-width="0.85"/>
<circle cx="182" cy="392.3" r="1.65" fill="#fff" stroke="#138a13" stroke-width="0.85"/>
<circle cx="190.8" cy="393.6" r="1.65" fill="#fff" stroke="#138a13" stroke-width="0.85"/>
<circle cx="199.7" cy="394.3" r="1.65" fill="#fff" stroke="#138a13" stroke-width="0.85"/>
<circle cx="208.6" cy="394.9" r="1.65" fill="#fff" stroke="#138a13" stroke-width="0.85"/>
<circle cx="217.5" cy="395.6" r="1.65" fill="#fff" stroke="#138a13" stroke-width="0.85"/>
<circle cx="226.9" cy="397" r="1.65" fill="#fff" stroke="#138a13" stroke-width="0.85"/>
<circle cx="236.3" cy="399.6" r="1.65" fill="#fff" stroke="#138a13" stroke-width="0.85"/>
<circle cx="244.7" cy="403.5" r="1.65" fill="#fff" stroke="#138a13" stroke-width="0.85"/>
<circle cx="254" cy="408.5" r="1.65" fill="#fff" stroke="#138a13" stroke-width="0.85"/>
<circle cx="262.9" cy="414.5" r="1.65" fill="#fff" stroke="#138a13" stroke-width="0.85"/>
<circle cx="266" cy="418.9" r="1.65" fill="#fff" stroke="#138a13" stroke-width="0.85"/>
<path d="M55,352.6 C56.5,351.6 61,349.27 64,346.6 C67,343.93 70,339.87 73,336.6 C76,333.33 79,330.17 82,327 C85,323.83 88,319.5 91,317.6 C94,315.7 97,314.87 100,315.6 C103,316.33 106,318.7 109,322 C112,325.3 115,330.57 118,335.4 C121,340.23 124,346.07 127,351 C130,355.93 133,360.85 136,365 C139,369.15 142,372.72 145,375.9 C148,379.08 151,381.83 154,384.1 C157,386.37 159.92,388.05 163,389.5 C166.08,390.95 169.33,391.98 172.5,392.8 C175.67,393.62 178.95,393.85 182,394.4 C185.05,394.95 187.85,395.67 190.8,396.1 C193.75,396.53 196.73,396.75 199.7,397 C202.67,397.25 205.63,397.4 208.6,397.6 C211.57,397.8 214.45,397.9 217.5,398.2 C220.55,398.5 223.77,398.77 226.9,399.4 C230.03,400.03 233.33,400.98 236.3,402 C239.27,403.02 241.75,404.17 244.7,405.5 C247.65,406.83 250.97,408.28 254,410 C257.03,411.72 260.98,414.32 262.9,415.8 C264.82,417.28 265.07,418.38 265.5,418.9" fill="none" stroke="#ff2222" stroke-width="1.5" stroke-linejoin="round"/>
<circle cx="55" cy="352.6" r="1.65" fill="#fff" stroke="#ff2222" stroke-width="0.85"/>
<circle cx="64" cy="346.6" r="1.65" fill="#fff" stroke="#ff2222" stroke-width="0.85"/>
<circle cx="73" cy="336.6" r="1.65" fill="#fff" stroke="#ff2222" stroke-width="0.85"/>
<circle cx="82" cy="327" r="1.65" fill="#fff" stroke="#ff2222" stroke-width="0.85"/>
<circle cx="91" cy="317.6" r="1.65" fill="#fff" stroke="#ff2222" stroke-width="0.85"/>
<circle cx="100" cy="315.6" r="1.65" fill="#fff" stroke="#ff2222" stroke-width="0.85"/>
<circle cx="109" cy="322" r="1.65" fill="#fff" stroke="#ff2222" stroke-width="0.85"/>
<circle cx="118" cy="335.4" r="1.65" fill="#fff" stroke="#ff2222" stroke-width="0.85"/>
<circle cx="127" cy="351" r="1.65" fill="#fff" stroke="#ff2222" stroke-width="0.85"/>
<circle cx="136" cy="365" r="1.65" fill="#fff" stroke="#ff2222" stroke-width="0.85"/>
<circle cx="145" cy="375.9" r="1.65" fill="#fff" stroke="#ff2222" stroke-width="0.85"/>
<circle cx="154" cy="384.1" r="1.65" fill="#fff" stroke="#ff2222" stroke-width="0.85"/>
<circle cx="163" cy="389.5" r="1.65" fill="#fff" stroke="#ff2222" stroke-width="0.85"/>
<circle cx="172.5" cy="392.8" r="1.65" fill="#fff" stroke="#ff2222" stroke-width="0.85"/>
<circle cx="182" cy="394.4" r="1.65" fill="#fff" stroke="#ff2222" stroke-width="0.85"/>
<circle cx="190.8" cy="396.1" r="1.65" fill="#fff" stroke="#ff2222" stroke-width="0.85"/>
<circle cx="199.7" cy="397" r="1.65" fill="#fff" stroke="#ff2222" stroke-width="0.85"/>
<circle cx="208.6" cy="397.6" r="1.65" fill="#fff" stroke="#ff2222" stroke-width="0.85"/>
<circle cx="217.5" cy="398.2" r="1.65" fill="#fff" stroke="#ff2222" stroke-width="0.85"/>
<circle cx="226.9" cy="399.4" r="1.65" fill="#fff" stroke="#ff2222" stroke-width="0.85"/>
<circle cx="236.3" cy="402" r="1.65" fill="#fff" stroke="#ff2222" stroke-width="0.85"/>
<circle cx="244.7" cy="405.5" r="1.65" fill="#fff" stroke="#ff2222" stroke-width="0.85"/>
<circle cx="254" cy="410" r="1.65" fill="#fff" stroke="#ff2222" stroke-width="0.85"/>
<circle cx="262.9" cy="415.8" r="1.65" fill="#fff" stroke="#ff2222" stroke-width="0.85"/>
<circle cx="265.5" cy="418.9" r="1.65" fill="#fff" stroke="#ff2222" stroke-width="0.85"/>
<rect x="318.4" y="242.2" width="215.4" height="176.9" fill="none" stroke="#1a1a1a" stroke-width="1.3"/>
<line x1="318.4" y1="419.1" x2="318.4" y2="422.3" stroke="#1a1a1a" stroke-width="1.1" />
<line x1="334.61" y1="419.1" x2="334.61" y2="421.1" stroke="#1a1a1a" stroke-width="1.1" />
<line x1="344.09" y1="419.1" x2="344.09" y2="421.1" stroke="#1a1a1a" stroke-width="1.1" />
<line x1="350.82" y1="419.1" x2="350.82" y2="421.1" stroke="#1a1a1a" stroke-width="1.1" />
<line x1="356.04" y1="419.1" x2="356.04" y2="421.1" stroke="#1a1a1a" stroke-width="1.1" />
<line x1="360.3" y1="419.1" x2="360.3" y2="421.1" stroke="#1a1a1a" stroke-width="1.1" />
<line x1="363.91" y1="419.1" x2="363.91" y2="421.1" stroke="#1a1a1a" stroke-width="1.1" />
<line x1="367.03" y1="419.1" x2="367.03" y2="421.1" stroke="#1a1a1a" stroke-width="1.1" />
<line x1="369.79" y1="419.1" x2="369.79" y2="421.1" stroke="#1a1a1a" stroke-width="1.1" />
<line x1="372.25" y1="419.1" x2="372.25" y2="422.3" stroke="#1a1a1a" stroke-width="1.1" />
<line x1="388.46" y1="419.1" x2="388.46" y2="421.1" stroke="#1a1a1a" stroke-width="1.1" />
<line x1="397.94" y1="419.1" x2="397.94" y2="421.1" stroke="#1a1a1a" stroke-width="1.1" />
<line x1="404.67" y1="419.1" x2="404.67" y2="421.1" stroke="#1a1a1a" stroke-width="1.1" />
<line x1="409.89" y1="419.1" x2="409.89" y2="421.1" stroke="#1a1a1a" stroke-width="1.1" />
<line x1="414.15" y1="419.1" x2="414.15" y2="421.1" stroke="#1a1a1a" stroke-width="1.1" />
<line x1="417.76" y1="419.1" x2="417.76" y2="421.1" stroke="#1a1a1a" stroke-width="1.1" />
<line x1="420.88" y1="419.1" x2="420.88" y2="421.1" stroke="#1a1a1a" stroke-width="1.1" />
<line x1="423.64" y1="419.1" x2="423.64" y2="421.1" stroke="#1a1a1a" stroke-width="1.1" />
<line x1="426.1" y1="419.1" x2="426.1" y2="422.3" stroke="#1a1a1a" stroke-width="1.1" />
<line x1="442.31" y1="419.1" x2="442.31" y2="421.1" stroke="#1a1a1a" stroke-width="1.1" />
<line x1="451.79" y1="419.1" x2="451.79" y2="421.1" stroke="#1a1a1a" stroke-width="1.1" />
<line x1="458.52" y1="419.1" x2="458.52" y2="421.1" stroke="#1a1a1a" stroke-width="1.1" />
<line x1="463.74" y1="419.1" x2="463.74" y2="421.1" stroke="#1a1a1a" stroke-width="1.1" />
<line x1="468" y1="419.1" x2="468" y2="421.1" stroke="#1a1a1a" stroke-width="1.1" />
<line x1="471.61" y1="419.1" x2="471.61" y2="421.1" stroke="#1a1a1a" stroke-width="1.1" />
<line x1="474.73" y1="419.1" x2="474.73" y2="421.1" stroke="#1a1a1a" stroke-width="1.1" />
<line x1="477.49" y1="419.1" x2="477.49" y2="421.1" stroke="#1a1a1a" stroke-width="1.1" />
<line x1="479.95" y1="419.1" x2="479.95" y2="422.3" stroke="#1a1a1a" stroke-width="1.1" />
<line x1="496.16" y1="419.1" x2="496.16" y2="421.1" stroke="#1a1a1a" stroke-width="1.1" />
<line x1="505.64" y1="419.1" x2="505.64" y2="421.1" stroke="#1a1a1a" stroke-width="1.1" />
<line x1="512.37" y1="419.1" x2="512.37" y2="421.1" stroke="#1a1a1a" stroke-width="1.1" />
<line x1="517.59" y1="419.1" x2="517.59" y2="421.1" stroke="#1a1a1a" stroke-width="1.1" />
<line x1="521.85" y1="419.1" x2="521.85" y2="421.1" stroke="#1a1a1a" stroke-width="1.1" />
<line x1="525.46" y1="419.1" x2="525.46" y2="421.1" stroke="#1a1a1a" stroke-width="1.1" />
<line x1="528.58" y1="419.1" x2="528.58" y2="421.1" stroke="#1a1a1a" stroke-width="1.1" />
<line x1="531.34" y1="419.1" x2="531.34" y2="421.1" stroke="#1a1a1a" stroke-width="1.1" />
<line x1="533.8" y1="419.1" x2="533.8" y2="422.3" stroke="#1a1a1a" stroke-width="1.1" />
<text x="318.4" y="432.2" font-size="10" font-family='"Liberation Sans", sans-serif' fill="#3a3a3a" text-anchor="middle" textLength="12.79" lengthAdjust="spacingAndGlyphs" stroke="#3a3a3a" stroke-width="0.1" >0.1</text>
<text x="372.25" y="432.2" font-size="10" font-family='"Liberation Sans", sans-serif' fill="#3a3a3a" text-anchor="middle" textLength="5.12" lengthAdjust="spacingAndGlyphs" stroke="#3a3a3a" stroke-width="0.1" >1</text>
<text x="426.1" y="432.2" font-size="10" font-family='"Liberation Sans", sans-serif' fill="#3a3a3a" text-anchor="middle" textLength="10.23" lengthAdjust="spacingAndGlyphs" stroke="#3a3a3a" stroke-width="0.1" >10</text>
<text x="479.95" y="432.2" font-size="10" font-family='"Liberation Sans", sans-serif' fill="#3a3a3a" text-anchor="middle" textLength="15.35" lengthAdjust="spacingAndGlyphs" stroke="#3a3a3a" stroke-width="0.1" >100</text>
<text x="533.8" y="432.2" font-size="10" font-family='"Liberation Sans", sans-serif' fill="#3a3a3a" text-anchor="middle" textLength="20.47" lengthAdjust="spacingAndGlyphs" stroke="#3a3a3a" stroke-width="0.1" >1000</text>
<line x1="318.4" y1="419.1" x2="315.2" y2="419.1" stroke="#1a1a1a" stroke-width="1.1" />
<text x="312.8" y="422.2" font-size="10" font-family='"Liberation Sans", sans-serif' fill="#3a3a3a" text-anchor="end" textLength="5.12" lengthAdjust="spacingAndGlyphs" stroke="#3a3a3a" stroke-width="0.1" >0</text>
<line x1="318.4" y1="410.25" x2="316.4" y2="410.25" stroke="#1a1a1a" stroke-width="1.1" />
<line x1="318.4" y1="401.41" x2="315.2" y2="401.41" stroke="#1a1a1a" stroke-width="1.1" />
<text x="312.8" y="404.51" font-size="10" font-family='"Liberation Sans", sans-serif' fill="#3a3a3a" text-anchor="end" textLength="5.12" lengthAdjust="spacingAndGlyphs" stroke="#3a3a3a" stroke-width="0.1" >1</text>
<line x1="318.4" y1="392.56" x2="316.4" y2="392.56" stroke="#1a1a1a" stroke-width="1.1" />
<line x1="318.4" y1="383.72" x2="315.2" y2="383.72" stroke="#1a1a1a" stroke-width="1.1" />
<text x="312.8" y="386.82" font-size="10" font-family='"Liberation Sans", sans-serif' fill="#3a3a3a" text-anchor="end" textLength="5.12" lengthAdjust="spacingAndGlyphs" stroke="#3a3a3a" stroke-width="0.1" >2</text>
<line x1="318.4" y1="374.88" x2="316.4" y2="374.88" stroke="#1a1a1a" stroke-width="1.1" />
<line x1="318.4" y1="366.03" x2="315.2" y2="366.03" stroke="#1a1a1a" stroke-width="1.1" />
<text x="312.8" y="369.13" font-size="10" font-family='"Liberation Sans", sans-serif' fill="#3a3a3a" text-anchor="end" textLength="5.12" lengthAdjust="spacingAndGlyphs" stroke="#3a3a3a" stroke-width="0.1" >3</text>
<line x1="318.4" y1="357.19" x2="316.4" y2="357.19" stroke="#1a1a1a" stroke-width="1.1" />
<line x1="318.4" y1="348.34" x2="315.2" y2="348.34" stroke="#1a1a1a" stroke-width="1.1" />
<text x="312.8" y="351.44" font-size="10" font-family='"Liberation Sans", sans-serif' fill="#3a3a3a" text-anchor="end" textLength="5.12" lengthAdjust="spacingAndGlyphs" stroke="#3a3a3a" stroke-width="0.1" >4</text>
<line x1="318.4" y1="339.5" x2="316.4" y2="339.5" stroke="#1a1a1a" stroke-width="1.1" />
<line x1="318.4" y1="330.65" x2="315.2" y2="330.65" stroke="#1a1a1a" stroke-width="1.1" />
<text x="312.8" y="333.75" font-size="10" font-family='"Liberation Sans", sans-serif' fill="#3a3a3a" text-anchor="end" textLength="5.12" lengthAdjust="spacingAndGlyphs" stroke="#3a3a3a" stroke-width="0.1" >5</text>
<line x1="318.4" y1="321.81" x2="316.4" y2="321.81" stroke="#1a1a1a" stroke-width="1.1" />
<line x1="318.4" y1="312.96" x2="315.2" y2="312.96" stroke="#1a1a1a" stroke-width="1.1" />
<text x="312.8" y="316.06" font-size="10" font-family='"Liberation Sans", sans-serif' fill="#3a3a3a" text-anchor="end" textLength="5.12" lengthAdjust="spacingAndGlyphs" stroke="#3a3a3a" stroke-width="0.1" >6</text>
<line x1="318.4" y1="304.12" x2="316.4" y2="304.12" stroke="#1a1a1a" stroke-width="1.1" />
<line x1="318.4" y1="295.27" x2="315.2" y2="295.27" stroke="#1a1a1a" stroke-width="1.1" />
<text x="312.8" y="298.37" font-size="10" font-family='"Liberation Sans", sans-serif' fill="#3a3a3a" text-anchor="end" textLength="5.12" lengthAdjust="spacingAndGlyphs" stroke="#3a3a3a" stroke-width="0.1" >7</text>
<line x1="318.4" y1="286.43" x2="316.4" y2="286.43" stroke="#1a1a1a" stroke-width="1.1" />
<line x1="318.4" y1="277.58" x2="315.2" y2="277.58" stroke="#1a1a1a" stroke-width="1.1" />
<text x="312.8" y="280.68" font-size="10" font-family='"Liberation Sans", sans-serif' fill="#3a3a3a" text-anchor="end" textLength="5.12" lengthAdjust="spacingAndGlyphs" stroke="#3a3a3a" stroke-width="0.1" >8</text>
<line x1="318.4" y1="268.74" x2="316.4" y2="268.74" stroke="#1a1a1a" stroke-width="1.1" />
<line x1="318.4" y1="259.89" x2="315.2" y2="259.89" stroke="#1a1a1a" stroke-width="1.1" />
<text x="312.8" y="262.99" font-size="10" font-family='"Liberation Sans", sans-serif' fill="#3a3a3a" text-anchor="end" textLength="5.12" lengthAdjust="spacingAndGlyphs" stroke="#3a3a3a" stroke-width="0.1" >9</text>
<line x1="318.4" y1="251.04" x2="316.4" y2="251.04" stroke="#1a1a1a" stroke-width="1.1" />
<line x1="318.4" y1="242.2" x2="315.2" y2="242.2" stroke="#1a1a1a" stroke-width="1.1" />
<text x="312.8" y="245.3" font-size="10" font-family='"Liberation Sans", sans-serif' fill="#3a3a3a" text-anchor="end" textLength="10.23" lengthAdjust="spacingAndGlyphs" stroke="#3a3a3a" stroke-width="0.1" >10</text>
<text x="281" y="249.5" font-size="15.9" font-family='"Liberation Serif", serif' fill="#111" font-weight="bold" textLength="19" lengthAdjust="spacingAndGlyphs" >(d)</text>
<text x="492.7" y="262.7" font-size="15.5" font-family='"Liberation Serif", serif' fill="#111" font-weight="bold" textLength="25.5" lengthAdjust="spacingAndGlyphs" >BIF</text>
<text x="298.5" y="331" font-size="9.2" font-family='"Liberation Sans", sans-serif' fill="#333" text-anchor="middle" stroke="#333" stroke-width="0.1" transform="rotate(-90 298.5 331)" >-Z'' (Ω Cm<tspan font-size='6' dy='-3.5'>2</tspan><tspan dy='3.5'>)</tspan></text>
<text x="424.5" y="441.8" font-size="10.2" font-family='"Liberation Sans", sans-serif' fill="#222" text-anchor="middle" textLength="61.3" lengthAdjust="spacingAndGlyphs" stroke="#222" stroke-width="0.1" >Frequency (Hz)</text>
<line x1="323.9" y1="251.1" x2="339.3" y2="251.1" stroke="#9a33ff" stroke-width="1.2" />
<circle cx="331.7" cy="251.1" r="1.8" fill="#fff" stroke="#9a33ff" stroke-width="0.9"/>
<text x="340.3" y="253.5" font-size="7.2" font-family='"Liberation Sans", sans-serif' fill="#222" textLength="134" lengthAdjust="spacingAndGlyphs" stroke="#222" stroke-width="0.1" >Samsung 18650 30Q - After Charged (4.14 V)</text>
<line x1="323.9" y1="259.23" x2="339.3" y2="259.23" stroke="#138a13" stroke-width="1.2" />
<circle cx="331.7" cy="259.23" r="1.8" fill="#fff" stroke="#138a13" stroke-width="0.9"/>
<text x="340.3" y="261.63" font-size="7.2" font-family='"Liberation Sans", sans-serif' fill="#222" textLength="40.4" lengthAdjust="spacingAndGlyphs" stroke="#222" stroke-width="0.1" >After 14 Cycle</text>
<line x1="323.9" y1="267.36" x2="339.3" y2="267.36" stroke="#2020ff" stroke-width="1.2" />
<circle cx="331.7" cy="267.36" r="1.8" fill="#fff" stroke="#2020ff" stroke-width="0.9"/>
<text x="340.3" y="269.76" font-size="7.2" font-family='"Liberation Sans", sans-serif' fill="#222" textLength="40.4" lengthAdjust="spacingAndGlyphs" stroke="#222" stroke-width="0.1" >After 28 Cycle</text>
<line x1="323.9" y1="275.49" x2="339.3" y2="275.49" stroke="#ff2222" stroke-width="1.2" />
<circle cx="331.7" cy="275.49" r="1.8" fill="#fff" stroke="#ff2222" stroke-width="0.9"/>
<text x="340.3" y="277.89" font-size="7.2" font-family='"Liberation Sans", sans-serif' fill="#222" textLength="40.4" lengthAdjust="spacingAndGlyphs" stroke="#222" stroke-width="0.1" >After 42 Cycle</text>
<line x1="323.9" y1="283.62" x2="339.3" y2="283.62" stroke="#d6d6d6" stroke-width="1.5" />
<circle cx="331.7" cy="283.62" r="1.3" fill="#fff" stroke="#b8b8b8" stroke-width="0.7"/>
<text x="340.3" y="286.02" font-size="7.2" font-family='"Liberation Sans", sans-serif' fill="#222" textLength="40.4" lengthAdjust="spacingAndGlyphs" stroke="#222" stroke-width="0.1" >After 56 Cycle</text>
<line x1="323.9" y1="291.75" x2="339.3" y2="291.75" stroke="#c0c0c0" stroke-width="0.7" stroke-dasharray="2,1.5"/>
<circle cx="331.7" cy="291.75" r="1.3" fill="#c4c4c4" stroke="#b8b8b8" stroke-width="0.7"/>
<text x="340.3" y="294.15" font-size="7.2" font-family='"Liberation Sans", sans-serif' fill="#222" textLength="40.4" lengthAdjust="spacingAndGlyphs" stroke="#222" stroke-width="0.1" >After 70 Cycle</text>
<line x1="323.9" y1="299.88" x2="339.3" y2="299.88" stroke="#c4c4c4" stroke-width="0.7" stroke-dasharray="2.5,1,1,1"/>
<circle cx="331.7" cy="299.88" r="1.3" fill="#fff" stroke="#b8b8b8" stroke-width="0.7"/>
<text x="340.3" y="302.28" font-size="7.2" font-family='"Liberation Sans", sans-serif' fill="#222" textLength="40.4" lengthAdjust="spacingAndGlyphs" stroke="#222" stroke-width="0.1" >After 84 Cycle</text>
<path d="M318,363.6 C319.6,363.77 324.5,364.27 327.6,364.6 C330.7,364.93 333.6,365.87 336.6,365.6 C339.6,365.33 342.6,365.1 345.6,363 C348.6,360.9 351.6,356.1 354.6,353 C357.6,349.9 360.63,346.97 363.6,344.4 C366.57,341.83 369.42,339.13 372.4,337.6 C375.38,336.07 378.48,335.03 381.5,335.2 C384.52,335.37 387.48,336.5 390.5,338.6 C393.52,340.7 396.57,344.4 399.6,347.8 C402.63,351.2 405.67,355.52 408.7,359 C411.73,362.48 414.77,365.65 417.8,368.7 C420.83,371.75 423.95,374.97 426.9,377.3 C429.85,379.63 432.57,381.18 435.5,382.7 C438.43,384.22 441.48,385.33 444.5,386.4 C447.52,387.47 450.57,388.28 453.6,389.1 C456.63,389.92 459.67,390.63 462.7,391.3 C465.73,391.97 468.83,392.48 471.8,393.1 C474.77,393.72 477.55,394.35 480.5,395 C483.45,395.65 486.5,396.33 489.5,397 C492.5,397.67 495.53,398.33 498.5,399 C501.47,399.67 504.38,400.37 507.3,401 C510.22,401.63 513.1,402.17 516,402.8 C518.9,403.43 521.95,404.27 524.7,404.8 C527.45,405.33 531.2,405.8 532.5,406" fill="none" stroke="#cfcfcf" stroke-width="1.2" stroke-linejoin="round"/>
<circle cx="318" cy="363.6" r="1.4" fill="#fff" stroke="#cfcfcf" stroke-width="0.7"/>
<circle cx="327.6" cy="364.6" r="1.4" fill="#fff" stroke="#cfcfcf" stroke-width="0.7"/>
<circle cx="336.6" cy="365.6" r="1.4" fill="#fff" stroke="#cfcfcf" stroke-width="0.7"/>
<circle cx="345.6" cy="363" r="1.4" fill="#fff" stroke="#cfcfcf" stroke-width="0.7"/>
<circle cx="354.6" cy="353" r="1.4" fill="#fff" stroke="#cfcfcf" stroke-width="0.7"/>
<circle cx="363.6" cy="344.4" r="1.4" fill="#fff" stroke="#cfcfcf" stroke-width="0.7"/>
<circle cx="372.4" cy="337.6" r="1.4" fill="#fff" stroke="#cfcfcf" stroke-width="0.7"/>
<circle cx="381.5" cy="335.2" r="1.4" fill="#fff" stroke="#cfcfcf" stroke-width="0.7"/>
<circle cx="390.5" cy="338.6" r="1.4" fill="#fff" stroke="#cfcfcf" stroke-width="0.7"/>
<circle cx="399.6" cy="347.8" r="1.4" fill="#fff" stroke="#cfcfcf" stroke-width="0.7"/>
<circle cx="408.7" cy="359" r="1.4" fill="#fff" stroke="#cfcfcf" stroke-width="0.7"/>
<circle cx="417.8" cy="368.7" r="1.4" fill="#fff" stroke="#cfcfcf" stroke-width="0.7"/>
<circle cx="426.9" cy="377.3" r="1.4" fill="#fff" stroke="#cfcfcf" stroke-width="0.7"/>
<circle cx="435.5" cy="382.7" r="1.4" fill="#fff" stroke="#cfcfcf" stroke-width="0.7"/>
<circle cx="444.5" cy="386.4" r="1.4" fill="#fff" stroke="#cfcfcf" stroke-width="0.7"/>
<circle cx="453.6" cy="389.1" r="1.4" fill="#fff" stroke="#cfcfcf" stroke-width="0.7"/>
<circle cx="462.7" cy="391.3" r="1.4" fill="#fff" stroke="#cfcfcf" stroke-width="0.7"/>
<circle cx="471.8" cy="393.1" r="1.4" fill="#fff" stroke="#cfcfcf" stroke-width="0.7"/>
<circle cx="480.5" cy="395" r="1.4" fill="#fff" stroke="#cfcfcf" stroke-width="0.7"/>
<circle cx="489.5" cy="397" r="1.4" fill="#fff" stroke="#cfcfcf" stroke-width="0.7"/>
<circle cx="498.5" cy="399" r="1.4" fill="#fff" stroke="#cfcfcf" stroke-width="0.7"/>
<circle cx="507.3" cy="401" r="1.4" fill="#fff" stroke="#cfcfcf" stroke-width="0.7"/>
<circle cx="516" cy="402.8" r="1.4" fill="#fff" stroke="#cfcfcf" stroke-width="0.7"/>
<circle cx="524.7" cy="404.8" r="1.4" fill="#fff" stroke="#cfcfcf" stroke-width="0.7"/>
<circle cx="532.5" cy="406" r="1.4" fill="#fff" stroke="#cfcfcf" stroke-width="0.7"/>
<path d="M327.6,349.6 C329.1,349.1 333.6,348.2 336.6,346.6 C339.6,345 342.6,342.43 345.6,340 C348.6,337.57 351.6,334.73 354.6,332 C357.6,329.27 360.63,325.43 363.6,323.6 C366.57,321.77 369.4,320.77 372.4,321 C375.4,321.23 378.57,322.5 381.6,325 C384.63,327.5 387.6,331.83 390.6,336 C393.6,340.17 396.6,345.67 399.6,350 C402.6,354.33 405.6,358.08 408.6,362 C411.6,365.92 414.6,369.75 417.6,373.5 C420.6,377.25 423.58,381.67 426.6,384.5 C429.62,387.33 432.68,388.83 435.7,390.5 C438.72,392.17 441.68,393.42 444.7,394.5 C447.72,395.58 450.75,396.22 453.8,397 C456.85,397.78 459.97,398.5 463,399.2 C466.03,399.9 468.98,400.57 472,401.2 C475.02,401.83 478.13,402.4 481.1,403 C484.07,403.6 486.9,404.17 489.8,404.8 C492.7,405.43 495.58,406.1 498.5,406.8 C501.42,407.5 504.38,408.08 507.3,409 C510.22,409.92 513.38,411.05 516,412.3 C518.62,413.55 521.83,415.8 523,416.5" fill="none" stroke="#c0c0c0" stroke-width="0.7" stroke-dasharray="2,1.5" stroke-linejoin="round"/>
<circle cx="327.6" cy="349.6" r="1.3" fill="#d2d2d2" stroke="#c0c0c0" stroke-width="0.7"/>
<circle cx="336.6" cy="346.6" r="1.3" fill="#d2d2d2" stroke="#c0c0c0" stroke-width="0.7"/>
<circle cx="345.6" cy="340" r="1.3" fill="#d2d2d2" stroke="#c0c0c0" stroke-width="0.7"/>
<circle cx="354.6" cy="332" r="1.3" fill="#d2d2d2" stroke="#c0c0c0" stroke-width="0.7"/>
<circle cx="363.6" cy="323.6" r="1.3" fill="#d2d2d2" stroke="#c0c0c0" stroke-width="0.7"/>
<circle cx="372.4" cy="321" r="1.3" fill="#d2d2d2" stroke="#c0c0c0" stroke-width="0.7"/>
<circle cx="381.6" cy="325" r="1.3" fill="#d2d2d2" stroke="#c0c0c0" stroke-width="0.7"/>
<circle cx="390.6" cy="336" r="1.3" fill="#d2d2d2" stroke="#c0c0c0" stroke-width="0.7"/>
<circle cx="399.6" cy="350" r="1.3" fill="#d2d2d2" stroke="#c0c0c0" stroke-width="0.7"/>
<circle cx="408.6" cy="362" r="1.3" fill="#d2d2d2" stroke="#c0c0c0" stroke-width="0.7"/>
<circle cx="417.6" cy="373.5" r="1.3" fill="#d2d2d2" stroke="#c0c0c0" stroke-width="0.7"/>
<circle cx="426.6" cy="384.5" r="1.3" fill="#d2d2d2" stroke="#c0c0c0" stroke-width="0.7"/>
<circle cx="435.7" cy="390.5" r="1.3" fill="#d2d2d2" stroke="#c0c0c0" stroke-width="0.7"/>
<circle cx="444.7" cy="394.5" r="1.3" fill="#d2d2d2" stroke="#c0c0c0" stroke-width="0.7"/>
<circle cx="453.8" cy="397" r="1.3" fill="#d2d2d2" stroke="#c0c0c0" stroke-width="0.7"/>
<circle cx="463" cy="399.2" r="1.3" fill="#d2d2d2" stroke="#c0c0c0" stroke-width="0.7"/>
<circle cx="472" cy="401.2" r="1.3" fill="#d2d2d2" stroke="#c0c0c0" stroke-width="0.7"/>
<circle cx="481.1" cy="403" r="1.3" fill="#d2d2d2" stroke="#c0c0c0" stroke-width="0.7"/>
<circle cx="489.8" cy="404.8" r="1.3" fill="#d2d2d2" stroke="#c0c0c0" stroke-width="0.7"/>
<circle cx="498.5" cy="406.8" r="1.3" fill="#d2d2d2" stroke="#c0c0c0" stroke-width="0.7"/>
<circle cx="507.3" cy="409" r="1.3" fill="#d2d2d2" stroke="#c0c0c0" stroke-width="0.7"/>
<circle cx="516" cy="412.3" r="1.3" fill="#d2d2d2" stroke="#c0c0c0" stroke-width="0.7"/>
<circle cx="523" cy="416.5" r="1.3" fill="#d2d2d2" stroke="#c0c0c0" stroke-width="0.7"/>
<path d="M327.6,355.6 C329.1,355.17 333.6,354.1 336.6,353 C339.6,351.9 342.6,351.17 345.6,349 C348.6,346.83 351.6,342.67 354.6,340 C357.6,337.33 360.63,334.83 363.6,333 C366.57,331.17 369.4,329.33 372.4,329 C375.4,328.67 378.57,329.17 381.6,331 C384.63,332.83 387.6,336.5 390.6,340 C393.6,343.5 396.6,348.17 399.6,352 C402.6,355.83 405.6,359.33 408.6,363 C411.6,366.67 414.6,370.33 417.6,374 C420.6,377.67 423.58,382.17 426.6,385 C429.62,387.83 432.68,389.33 435.7,391 C438.72,392.67 441.68,393.92 444.7,395 C447.72,396.08 450.75,396.73 453.8,397.5 C456.85,398.27 459.97,398.92 463,399.6 C466.03,400.28 468.98,400.97 472,401.6 C475.02,402.23 478.13,402.8 481.1,403.4 C484.07,404 486.9,404.57 489.8,405.2 C492.7,405.83 495.58,406.48 498.5,407.2 C501.42,407.92 504.38,408.57 507.3,409.5 C510.22,410.43 514.55,412.25 516,412.8" fill="none" stroke="#c4c4c4" stroke-width="0.7" stroke-dasharray="2.5,1,1,1" stroke-linejoin="round"/>
<circle cx="327.6" cy="355.6" r="1.3" fill="#fff" stroke="#c4c4c4" stroke-width="0.7"/>
<circle cx="336.6" cy="353" r="1.3" fill="#fff" stroke="#c4c4c4" stroke-width="0.7"/>
<circle cx="345.6" cy="349" r="1.3" fill="#fff" stroke="#c4c4c4" stroke-width="0.7"/>
<circle cx="354.6" cy="340" r="1.3" fill="#fff" stroke="#c4c4c4" stroke-width="0.7"/>
<circle cx="363.6" cy="333" r="1.3" fill="#fff" stroke="#c4c4c4" stroke-width="0.7"/>
<circle cx="372.4" cy="329" r="1.3" fill="#fff" stroke="#c4c4c4" stroke-width="0.7"/>
<circle cx="381.6" cy="331" r="1.3" fill="#fff" stroke="#c4c4c4" stroke-width="0.7"/>
<circle cx="390.6" cy="340" r="1.3" fill="#fff" stroke="#c4c4c4" stroke-width="0.7"/>
<circle cx="399.6" cy="352" r="1.3" fill="#fff" stroke="#c4c4c4" stroke-width="0.7"/>
<circle cx="408.6" cy="363" r="1.3" fill="#fff" stroke="#c4c4c4" stroke-width="0.7"/>
<circle cx="417.6" cy="374" r="1.3" fill="#fff" stroke="#c4c4c4" stroke-width="0.7"/>
<circle cx="426.6" cy="385" r="1.3" fill="#fff" stroke="#c4c4c4" stroke-width="0.7"/>
<circle cx="435.7" cy="391" r="1.3" fill="#fff" stroke="#c4c4c4" stroke-width="0.7"/>
<circle cx="444.7" cy="395" r="1.3" fill="#fff" stroke="#c4c4c4" stroke-width="0.7"/>
<circle cx="453.8" cy="397.5" r="1.3" fill="#fff" stroke="#c4c4c4" stroke-width="0.7"/>
<circle cx="463" cy="399.6" r="1.3" fill="#fff" stroke="#c4c4c4" stroke-width="0.7"/>
<circle cx="472" cy="401.6" r="1.3" fill="#fff" stroke="#c4c4c4" stroke-width="0.7"/>
<circle cx="481.1" cy="403.4" r="1.3" fill="#fff" stroke="#c4c4c4" stroke-width="0.7"/>
<circle cx="489.8" cy="405.2" r="1.3" fill="#fff" stroke="#c4c4c4" stroke-width="0.7"/>
<circle cx="498.5" cy="407.2" r="1.3" fill="#fff" stroke="#c4c4c4" stroke-width="0.7"/>
<circle cx="507.3" cy="409.5" r="1.3" fill="#fff" stroke="#c4c4c4" stroke-width="0.7"/>
<circle cx="516" cy="412.8" r="1.3" fill="#fff" stroke="#c4c4c4" stroke-width="0.7"/>
<path d="M318.4,379 C319.93,379.77 324.57,382.43 327.6,383.6 C330.63,384.77 333.6,385.53 336.6,386 C339.6,386.47 342.6,386.57 345.6,386.4 C348.6,386.23 351.6,385.9 354.6,385 C357.6,384.1 360.63,382.57 363.6,381 C366.57,379.43 369.42,377.6 372.4,375.6 C375.38,373.6 378.48,371 381.5,369 C384.52,367 387.48,364.73 390.5,363.6 C393.52,362.47 396.57,362.05 399.6,362.2 C402.63,362.35 405.67,363.28 408.7,364.5 C411.73,365.72 414.77,367.67 417.8,369.5 C420.83,371.33 423.95,373.68 426.9,375.5 C429.85,377.32 432.57,378.98 435.5,380.4 C438.43,381.82 441.48,382.92 444.5,384 C447.52,385.08 450.57,386.05 453.6,386.9 C456.63,387.75 459.67,388.43 462.7,389.1 C465.73,389.77 468.73,390.28 471.8,390.9 C474.87,391.52 478.1,392.08 481.1,392.8 C484.1,393.52 486.9,394.25 489.8,395.2 C492.7,396.15 495.58,397.23 498.5,398.5 C501.42,399.77 504.38,400.92 507.3,402.8 C510.22,404.68 513.47,407.72 516,409.8 C518.53,411.88 520.87,413.85 522.5,415.3 C524.13,416.75 525.25,417.97 525.8,418.5" fill="none" stroke="#9a33ff" stroke-width="1.5" stroke-linejoin="round"/>
<circle cx="318.4" cy="379" r="1.65" fill="#fff" stroke="#9a33ff" stroke-width="0.85"/>
<circle cx="327.6" cy="383.6" r="1.65" fill="#fff" stroke="#9a33ff" stroke-width="0.85"/>
<circle cx="336.6" cy="386" r="1.65" fill="#fff" stroke="#9a33ff" stroke-width="0.85"/>
<circle cx="345.6" cy="386.4" r="1.65" fill="#fff" stroke="#9a33ff" stroke-width="0.85"/>
<circle cx="354.6" cy="385" r="1.65" fill="#fff" stroke="#9a33ff" stroke-width="0.85"/>
<circle cx="363.6" cy="381" r="1.65" fill="#fff" stroke="#9a33ff" stroke-width="0.85"/>
<circle cx="372.4" cy="375.6" r="1.65" fill="#fff" stroke="#9a33ff" stroke-width="0.85"/>
<circle cx="381.5" cy="369" r="1.65" fill="#fff" stroke="#9a33ff" stroke-width="0.85"/>
<circle cx="390.5" cy="363.6" r="1.65" fill="#fff" stroke="#9a33ff" stroke-width="0.85"/>
<circle cx="399.6" cy="362.2" r="1.65" fill="#fff" stroke="#9a33ff" stroke-width="0.85"/>
<circle cx="408.7" cy="364.5" r="1.65" fill="#fff" stroke="#9a33ff" stroke-width="0.85"/>
<circle cx="417.8" cy="369.5" r="1.65" fill="#fff" stroke="#9a33ff" stroke-width="0.85"/>
<circle cx="426.9" cy="375.5" r="1.65" fill="#fff" stroke="#9a33ff" stroke-width="0.85"/>
<circle cx="435.5" cy="380.4" r="1.65" fill="#fff" stroke="#9a33ff" stroke-width="0.85"/>
<circle cx="444.5" cy="384" r="1.65" fill="#fff" stroke="#9a33ff" stroke-width="0.85"/>
<circle cx="453.6" cy="386.9" r="1.65" fill="#fff" stroke="#9a33ff" stroke-width="0.85"/>
<circle cx="462.7" cy="389.1" r="1.65" fill="#fff" stroke="#9a33ff" stroke-width="0.85"/>
<circle cx="471.8" cy="390.9" r="1.65" fill="#fff" stroke="#9a33ff" stroke-width="0.85"/>
<circle cx="481.1" cy="392.8" r="1.65" fill="#fff" stroke="#9a33ff" stroke-width="0.85"/>
<circle cx="489.8" cy="395.2" r="1.65" fill="#fff" stroke="#9a33ff" stroke-width="0.85"/>
<circle cx="498.5" cy="398.5" r="1.65" fill="#fff" stroke="#9a33ff" stroke-width="0.85"/>
<circle cx="507.3" cy="402.8" r="1.65" fill="#fff" stroke="#9a33ff" stroke-width="0.85"/>
<circle cx="516" cy="409.8" r="1.65" fill="#fff" stroke="#9a33ff" stroke-width="0.85"/>
<circle cx="522.5" cy="415.3" r="1.65" fill="#fff" stroke="#9a33ff" stroke-width="0.85"/>
<circle cx="525.8" cy="418.5" r="1.65" fill="#fff" stroke="#9a33ff" stroke-width="0.85"/>
<path d="M318.4,371 C319.93,371.43 324.57,373.1 327.6,373.6 C330.63,374.1 333.6,374.5 336.6,374 C339.6,373.5 342.6,372.1 345.6,370.6 C348.6,369.1 351.6,367.17 354.6,365 C357.6,362.83 360.63,359.93 363.6,357.6 C366.57,355.27 369.42,352.87 372.4,351 C375.38,349.13 378.48,346.97 381.5,346.4 C384.52,345.83 387.48,346.08 390.5,347.6 C393.52,349.12 396.57,352.52 399.6,355.5 C402.63,358.48 405.67,362.17 408.7,365.5 C411.73,368.83 414.77,372.23 417.8,375.5 C420.83,378.77 423.95,382.52 426.9,385.1 C429.85,387.68 432.57,389.43 435.5,391 C438.43,392.57 441.48,393.42 444.5,394.5 C447.52,395.58 450.57,396.62 453.6,397.5 C456.63,398.38 459.67,399.08 462.7,399.8 C465.73,400.52 468.73,401.13 471.8,401.8 C474.87,402.47 478.1,403.18 481.1,403.8 C484.1,404.42 486.9,404.88 489.8,405.5 C492.7,406.12 495.58,406.78 498.5,407.5 C501.42,408.22 504.38,408.87 507.3,409.8 C510.22,410.73 513.47,412 516,413.1 C518.53,414.2 520.92,415.42 522.5,416.4 C524.08,417.38 525,418.57 525.5,419" fill="none" stroke="#138a13" stroke-width="1.5" stroke-linejoin="round"/>
<circle cx="318.4" cy="371" r="1.65" fill="#fff" stroke="#138a13" stroke-width="0.85"/>
<circle cx="327.6" cy="373.6" r="1.65" fill="#fff" stroke="#138a13" stroke-width="0.85"/>
<circle cx="336.6" cy="374" r="1.65" fill="#fff" stroke="#138a13" stroke-width="0.85"/>
<circle cx="345.6" cy="370.6" r="1.65" fill="#fff" stroke="#138a13" stroke-width="0.85"/>
<circle cx="354.6" cy="365" r="1.65" fill="#fff" stroke="#138a13" stroke-width="0.85"/>
<circle cx="363.6" cy="357.6" r="1.65" fill="#fff" stroke="#138a13" stroke-width="0.85"/>
<circle cx="372.4" cy="351" r="1.65" fill="#fff" stroke="#138a13" stroke-width="0.85"/>
<circle cx="381.5" cy="346.4" r="1.65" fill="#fff" stroke="#138a13" stroke-width="0.85"/>
<circle cx="390.5" cy="347.6" r="1.65" fill="#fff" stroke="#138a13" stroke-width="0.85"/>
<circle cx="399.6" cy="355.5" r="1.65" fill="#fff" stroke="#138a13" stroke-width="0.85"/>
<circle cx="408.7" cy="365.5" r="1.65" fill="#fff" stroke="#138a13" stroke-width="0.85"/>
<circle cx="417.8" cy="375.5" r="1.65" fill="#fff" stroke="#138a13" stroke-width="0.85"/>
<circle cx="426.9" cy="385.1" r="1.65" fill="#fff" stroke="#138a13" stroke-width="0.85"/>
<circle cx="435.5" cy="391" r="1.65" fill="#fff" stroke="#138a13" stroke-width="0.85"/>
<circle cx="444.5" cy="394.5" r="1.65" fill="#fff" stroke="#138a13" stroke-width="0.85"/>
<circle cx="453.6" cy="397.5" r="1.65" fill="#fff" stroke="#138a13" stroke-width="0.85"/>
<circle cx="462.7" cy="399.8" r="1.65" fill="#fff" stroke="#138a13" stroke-width="0.85"/>
<circle cx="471.8" cy="401.8" r="1.65" fill="#fff" stroke="#138a13" stroke-width="0.85"/>
<circle cx="481.1" cy="403.8" r="1.65" fill="#fff" stroke="#138a13" stroke-width="0.85"/>
<circle cx="489.8" cy="405.5" r="1.65" fill="#fff" stroke="#138a13" stroke-width="0.85"/>
<circle cx="498.5" cy="407.5" r="1.65" fill="#fff" stroke="#138a13" stroke-width="0.85"/>
<circle cx="507.3" cy="409.8" r="1.65" fill="#fff" stroke="#138a13" stroke-width="0.85"/>
<circle cx="516" cy="413.1" r="1.65" fill="#fff" stroke="#138a13" stroke-width="0.85"/>
<circle cx="522.5" cy="416.4" r="1.65" fill="#fff" stroke="#138a13" stroke-width="0.85"/>
<circle cx="525.5" cy="419" r="1.65" fill="#fff" stroke="#138a13" stroke-width="0.85"/>
<path d="M318.4,375 C319.93,375.17 324.57,375.5 327.6,376 C330.63,376.5 333.6,377.83 336.6,378 C339.6,378.17 342.6,377.6 345.6,377 C348.6,376.4 351.6,375.63 354.6,374.4 C357.6,373.17 360.63,371.5 363.6,369.6 C366.57,367.7 369.42,364.77 372.4,363 C375.38,361.23 378.48,359.95 381.5,359 C384.52,358.05 387.48,356.97 390.5,357.3 C393.52,357.63 396.57,359.18 399.6,361 C402.63,362.82 405.67,365.78 408.7,368.2 C411.73,370.62 414.77,372.93 417.8,375.5 C420.83,378.07 423.95,381.18 426.9,383.6 C429.85,386.02 432.57,388.3 435.5,390 C438.43,391.7 441.48,392.7 444.5,393.8 C447.52,394.9 450.57,395.77 453.6,396.6 C456.63,397.43 459.67,398.1 462.7,398.8 C465.73,399.5 468.73,400.18 471.8,400.8 C474.87,401.42 478.1,401.92 481.1,402.5 C484.1,403.08 486.9,403.67 489.8,404.3 C492.7,404.93 495.58,405.58 498.5,406.3 C501.42,407.02 504.38,407.68 507.3,408.6 C510.22,409.52 513.38,410.57 516,411.8 C518.62,413.03 521.25,414.8 523,416 C524.75,417.2 525.92,418.5 526.5,419" fill="none" stroke="#2020ff" stroke-width="1.5" stroke-linejoin="round"/>
<circle cx="318.4" cy="375" r="1.65" fill="#fff" stroke="#2020ff" stroke-width="0.85"/>
<circle cx="327.6" cy="376" r="1.65" fill="#fff" stroke="#2020ff" stroke-width="0.85"/>
<circle cx="336.6" cy="378" r="1.65" fill="#fff" stroke="#2020ff" stroke-width="0.85"/>
<circle cx="345.6" cy="377" r="1.65" fill="#fff" stroke="#2020ff" stroke-width="0.85"/>
<circle cx="354.6" cy="374.4" r="1.65" fill="#fff" stroke="#2020ff" stroke-width="0.85"/>
<circle cx="363.6" cy="369.6" r="1.65" fill="#fff" stroke="#2020ff" stroke-width="0.85"/>
<circle cx="372.4" cy="363" r="1.65" fill="#fff" stroke="#2020ff" stroke-width="0.85"/>
<circle cx="381.5" cy="359" r="1.65" fill="#fff" stroke="#2020ff" stroke-width="0.85"/>
<circle cx="390.5" cy="357.3" r="1.65" fill="#fff" stroke="#2020ff" stroke-width="0.85"/>
<circle cx="399.6" cy="361" r="1.65" fill="#fff" stroke="#2020ff" stroke-width="0.85"/>
<circle cx="408.7" cy="368.2" r="1.65" fill="#fff" stroke="#2020ff" stroke-width="0.85"/>
<circle cx="417.8" cy="375.5" r="1.65" fill="#fff" stroke="#2020ff" stroke-width="0.85"/>
<circle cx="426.9" cy="383.6" r="1.65" fill="#fff" stroke="#2020ff" stroke-width="0.85"/>
<circle cx="435.5" cy="390" r="1.65" fill="#fff" stroke="#2020ff" stroke-width="0.85"/>
<circle cx="444.5" cy="393.8" r="1.65" fill="#fff" stroke="#2020ff" stroke-width="0.85"/>
<circle cx="453.6" cy="396.6" r="1.65" fill="#fff" stroke="#2020ff" stroke-width="0.85"/>
<circle cx="462.7" cy="398.8" r="1.65" fill="#fff" stroke="#2020ff" stroke-width="0.85"/>
<circle cx="471.8" cy="400.8" r="1.65" fill="#fff" stroke="#2020ff" stroke-width="0.85"/>
<circle cx="481.1" cy="402.5" r="1.65" fill="#fff" stroke="#2020ff" stroke-width="0.85"/>
<circle cx="489.8" cy="404.3" r="1.65" fill="#fff" stroke="#2020ff" stroke-width="0.85"/>
<circle cx="498.5" cy="406.3" r="1.65" fill="#fff" stroke="#2020ff" stroke-width="0.85"/>
<circle cx="507.3" cy="408.6" r="1.65" fill="#fff" stroke="#2020ff" stroke-width="0.85"/>
<circle cx="516" cy="411.8" r="1.65" fill="#fff" stroke="#2020ff" stroke-width="0.85"/>
<circle cx="523" cy="416" r="1.65" fill="#fff" stroke="#2020ff" stroke-width="0.85"/>
<circle cx="526.5" cy="419" r="1.65" fill="#fff" stroke="#2020ff" stroke-width="0.85"/>
<path d="M318.4,368 C319.93,368.43 324.57,370.2 327.6,370.6 C330.63,371 333.6,370.9 336.6,370.4 C339.6,369.9 342.6,369.07 345.6,367.6 C348.6,366.13 351.6,364.03 354.6,361.6 C357.6,359.17 360.63,355.67 363.6,353 C366.57,350.33 369.42,347.62 372.4,345.6 C375.38,343.58 378.48,341.47 381.5,340.9 C384.52,340.33 387.48,340.77 390.5,342.2 C393.52,343.63 396.57,346.28 399.6,349.5 C402.63,352.72 405.67,357.78 408.7,361.5 C411.73,365.22 414.77,368.47 417.8,371.8 C420.83,375.13 423.95,378.77 426.9,381.5 C429.85,384.23 432.57,386.33 435.5,388.2 C438.43,390.07 441.48,391.48 444.5,392.7 C447.52,393.92 450.57,394.65 453.6,395.5 C456.63,396.35 459.67,397.12 462.7,397.8 C465.73,398.48 468.73,399.07 471.8,399.6 C474.87,400.13 478.1,400.38 481.1,401 C484.1,401.62 486.9,402.63 489.8,403.3 C492.7,403.97 495.58,404.35 498.5,405 C501.42,405.65 504.38,406.32 507.3,407.2 C510.22,408.08 512.92,408.7 516,410.3 C519.08,411.9 523.8,415.35 525.8,416.8 C527.8,418.25 527.63,418.63 528,419" fill="none" stroke="#ff2222" stroke-width="1.5" stroke-linejoin="round"/>
<circle cx="318.4" cy="368" r="1.65" fill="#fff" stroke="#ff2222" stroke-width="0.85"/>
<circle cx="327.6" cy="370.6" r="1.65" fill="#fff" stroke="#ff2222" stroke-width="0.85"/>
<circle cx="336.6" cy="370.4" r="1.65" fill="#fff" stroke="#ff2222" stroke-width="0.85"/>
<circle cx="345.6" cy="367.6" r="1.65" fill="#fff" stroke="#ff2222" stroke-width="0.85"/>
<circle cx="354.6" cy="361.6" r="1.65" fill="#fff" stroke="#ff2222" stroke-width="0.85"/>
<circle cx="363.6" cy="353" r="1.65" fill="#fff" stroke="#ff2222" stroke-width="0.85"/>
<circle cx="372.4" cy="345.6" r="1.65" fill="#fff" stroke="#ff2222" stroke-width="0.85"/>
<circle cx="381.5" cy="340.9" r="1.65" fill="#fff" stroke="#ff2222" stroke-width="0.85"/>
<circle cx="390.5" cy="342.2" r="1.65" fill="#fff" stroke="#ff2222" stroke-width="0.85"/>
<circle cx="399.6" cy="349.5" r="1.65" fill="#fff" stroke="#ff2222" stroke-width="0.85"/>
<circle cx="408.7" cy="361.5" r="1.65" fill="#fff" stroke="#ff2222" stroke-width="0.85"/>
<circle cx="417.8" cy="371.8" r="1.65" fill="#fff" stroke="#ff2222" stroke-width="0.85"/>
<circle cx="426.9" cy="381.5" r="1.65" fill="#fff" stroke="#ff2222" stroke-width="0.85"/>
<circle cx="435.5" cy="388.2" r="1.65" fill="#fff" stroke="#ff2222" stroke-width="0.85"/>
<circle cx="444.5" cy="392.7" r="1.65" fill="#fff" stroke="#ff2222" stroke-width="0.85"/>
<circle cx="453.6" cy="395.5" r="1.65" fill="#fff" stroke="#ff2222" stroke-width="0.85"/>
<circle cx="462.7" cy="397.8" r="1.65" fill="#fff" stroke="#ff2222" stroke-width="0.85"/>
<circle cx="471.8" cy="399.6" r="1.65" fill="#fff" stroke="#ff2222" stroke-width="0.85"/>
<circle cx="481.1" cy="401" r="1.65" fill="#fff" stroke="#ff2222" stroke-width="0.85"/>
<circle cx="489.8" cy="403.3" r="1.65" fill="#fff" stroke="#ff2222" stroke-width="0.85"/>
<circle cx="498.5" cy="405" r="1.65" fill="#fff" stroke="#ff2222" stroke-width="0.85"/>
<circle cx="507.3" cy="407.2" r="1.65" fill="#fff" stroke="#ff2222" stroke-width="0.85"/>
<circle cx="516" cy="410.3" r="1.65" fill="#fff" stroke="#ff2222" stroke-width="0.85"/>
<circle cx="525.8" cy="416.8" r="1.65" fill="#fff" stroke="#ff2222" stroke-width="0.85"/>
<rect x="55.8" y="469.9" width="216" height="172.8" fill="none" stroke="#1a1a1a" stroke-width="1.3"/>
<line x1="55.8" y1="642.7" x2="55.8" y2="645.9" stroke="#1a1a1a" stroke-width="1.1" />
<text x="55.8" y="655.6" font-size="10" font-family='"Liberation Sans", sans-serif' fill="#3a3a3a" text-anchor="middle" textLength="5.12" lengthAdjust="spacingAndGlyphs" stroke="#3a3a3a" stroke-width="0.1" >0</text>
<line x1="67.8" y1="642.7" x2="67.8" y2="644.7" stroke="#1a1a1a" stroke-width="1.1" />
<line x1="79.8" y1="642.7" x2="79.8" y2="645.9" stroke="#1a1a1a" stroke-width="1.1" />
<text x="79.8" y="655.6" font-size="10" font-family='"Liberation Sans", sans-serif' fill="#3a3a3a" text-anchor="middle" textLength="10.23" lengthAdjust="spacingAndGlyphs" stroke="#3a3a3a" stroke-width="0.1" >10</text>
<line x1="91.8" y1="642.7" x2="91.8" y2="644.7" stroke="#1a1a1a" stroke-width="1.1" />
<line x1="103.8" y1="642.7" x2="103.8" y2="645.9" stroke="#1a1a1a" stroke-width="1.1" />
<text x="103.8" y="655.6" font-size="10" font-family='"Liberation Sans", sans-serif' fill="#3a3a3a" text-anchor="middle" textLength="10.23" lengthAdjust="spacingAndGlyphs" stroke="#3a3a3a" stroke-width="0.1" >20</text>
<line x1="115.8" y1="642.7" x2="115.8" y2="644.7" stroke="#1a1a1a" stroke-width="1.1" />
<line x1="127.8" y1="642.7" x2="127.8" y2="645.9" stroke="#1a1a1a" stroke-width="1.1" />
<text x="127.8" y="655.6" font-size="10" font-family='"Liberation Sans", sans-serif' fill="#3a3a3a" text-anchor="middle" textLength="10.23" lengthAdjust="spacingAndGlyphs" stroke="#3a3a3a" stroke-width="0.1" >30</text>
<line x1="139.8" y1="642.7" x2="139.8" y2="644.7" stroke="#1a1a1a" stroke-width="1.1" />
<line x1="151.8" y1="642.7" x2="151.8" y2="645.9" stroke="#1a1a1a" stroke-width="1.1" />
<text x="151.8" y="655.6" font-size="10" font-family='"Liberation Sans", sans-serif' fill="#3a3a3a" text-anchor="middle" textLength="10.23" lengthAdjust="spacingAndGlyphs" stroke="#3a3a3a" stroke-width="0.1" >40</text>
<line x1="163.8" y1="642.7" x2="163.8" y2="644.7" stroke="#1a1a1a" stroke-width="1.1" />
<line x1="175.8" y1="642.7" x2="175.8" y2="645.9" stroke="#1a1a1a" stroke-width="1.1" />
<text x="175.8" y="655.6" font-size="10" font-family='"Liberation Sans", sans-serif' fill="#3a3a3a" text-anchor="middle" textLength="10.23" lengthAdjust="spacingAndGlyphs" stroke="#3a3a3a" stroke-width="0.1" >50</text>
<line x1="187.8" y1="642.7" x2="187.8" y2="644.7" stroke="#1a1a1a" stroke-width="1.1" />
<line x1="199.8" y1="642.7" x2="199.8" y2="645.9" stroke="#1a1a1a" stroke-width="1.1" />
<text x="199.8" y="655.6" font-size="10" font-family='"Liberation Sans", sans-serif' fill="#3a3a3a" text-anchor="middle" textLength="10.23" lengthAdjust="spacingAndGlyphs" stroke="#3a3a3a" stroke-width="0.1" >60</text>
<line x1="211.8" y1="642.7" x2="211.8" y2="644.7" stroke="#1a1a1a" stroke-width="1.1" />
<line x1="223.8" y1="642.7" x2="223.8" y2="645.9" stroke="#1a1a1a" stroke-width="1.1" />
<text x="223.8" y="655.6" font-size="10" font-family='"Liberation Sans", sans-serif' fill="#3a3a3a" text-anchor="middle" textLength="10.23" lengthAdjust="spacingAndGlyphs" stroke="#3a3a3a" stroke-width="0.1" >70</text>
<line x1="235.8" y1="642.7" x2="235.8" y2="644.7" stroke="#1a1a1a" stroke-width="1.1" />
<line x1="247.8" y1="642.7" x2="247.8" y2="645.9" stroke="#1a1a1a" stroke-width="1.1" />
<text x="247.8" y="655.6" font-size="10" font-family='"Liberation Sans", sans-serif' fill="#3a3a3a" text-anchor="middle" textLength="10.23" lengthAdjust="spacingAndGlyphs" stroke="#3a3a3a" stroke-width="0.1" >80</text>
<line x1="259.8" y1="642.7" x2="259.8" y2="644.7" stroke="#1a1a1a" stroke-width="1.1" />
<line x1="271.8" y1="642.7" x2="271.8" y2="645.9" stroke="#1a1a1a" stroke-width="1.1" />
<text x="271.8" y="655.6" font-size="10" font-family='"Liberation Sans", sans-serif' fill="#3a3a3a" text-anchor="middle" textLength="10.23" lengthAdjust="spacingAndGlyphs" stroke="#3a3a3a" stroke-width="0.1" >90</text>
<line x1="55.8" y1="642.7" x2="52.6" y2="642.7" stroke="#1a1a1a" stroke-width="1.1" />
<text x="50.6" y="645.6" font-size="10" font-family='"Liberation Sans", sans-serif' fill="#3a3a3a" text-anchor="end" textLength="17.91" lengthAdjust="spacingAndGlyphs" stroke="#3a3a3a" stroke-width="0.1" >0.02</text>
<line x1="55.8" y1="625.42" x2="53.8" y2="625.42" stroke="#1a1a1a" stroke-width="1.1" />
<line x1="55.8" y1="608.14" x2="52.6" y2="608.14" stroke="#1a1a1a" stroke-width="1.1" />
<text x="50.6" y="611.04" font-size="10" font-family='"Liberation Sans", sans-serif' fill="#3a3a3a" text-anchor="end" textLength="17.91" lengthAdjust="spacingAndGlyphs" stroke="#3a3a3a" stroke-width="0.1" >0.03</text>
<line x1="55.8" y1="590.86" x2="53.8" y2="590.86" stroke="#1a1a1a" stroke-width="1.1" />
<line x1="55.8" y1="573.58" x2="52.6" y2="573.58" stroke="#1a1a1a" stroke-width="1.1" />
<text x="50.6" y="576.48" font-size="10" font-family='"Liberation Sans", sans-serif' fill="#3a3a3a" text-anchor="end" textLength="17.91" lengthAdjust="spacingAndGlyphs" stroke="#3a3a3a" stroke-width="0.1" >0.04</text>
<line x1="55.8" y1="556.3" x2="53.8" y2="556.3" stroke="#1a1a1a" stroke-width="1.1" />
<line x1="55.8" y1="539.02" x2="52.6" y2="539.02" stroke="#1a1a1a" stroke-width="1.1" />
<text x="50.6" y="541.92" font-size="10" font-family='"Liberation Sans", sans-serif' fill="#3a3a3a" text-anchor="end" textLength="17.91" lengthAdjust="spacingAndGlyphs" stroke="#3a3a3a" stroke-width="0.1" >0.05</text>
<line x1="55.8" y1="521.74" x2="53.8" y2="521.74" stroke="#1a1a1a" stroke-width="1.1" />
<line x1="55.8" y1="504.46" x2="52.6" y2="504.46" stroke="#1a1a1a" stroke-width="1.1" />
<text x="50.6" y="507.36" font-size="10" font-family='"Liberation Sans", sans-serif' fill="#3a3a3a" text-anchor="end" textLength="17.91" lengthAdjust="spacingAndGlyphs" stroke="#3a3a3a" stroke-width="0.1" >0.06</text>
<line x1="55.8" y1="487.18" x2="53.8" y2="487.18" stroke="#1a1a1a" stroke-width="1.1" />
<line x1="55.8" y1="469.9" x2="52.6" y2="469.9" stroke="#1a1a1a" stroke-width="1.1" />
<text x="50.6" y="472.8" font-size="10" font-family='"Liberation Sans", sans-serif' fill="#3a3a3a" text-anchor="end" textLength="17.91" lengthAdjust="spacingAndGlyphs" stroke="#3a3a3a" stroke-width="0.1" >0.07</text>
<text x="10" y="473.6" font-size="15.9" font-family='"Liberation Serif", serif' fill="#111" font-weight="bold" textLength="17.4" lengthAdjust="spacingAndGlyphs" >(e)</text>
<text x="27.9" y="598.1" font-size="10.5" font-family='"Liberation Sans", sans-serif' fill="#1a1a1a" stroke="#1a1a1a" stroke-width="0.45" transform="rotate(-90 27.9 598.1)" >Rct<tspan font-size='9.2' fill='#444' stroke='#444' stroke-width='0.05'> (2nd Semicircle)</tspan></text>
<text x="130.1" y="672" font-size="11.3" font-family='"Liberation Sans", sans-serif' fill="#1a1a1a" textLength="67.4" lengthAdjust="spacingAndGlyphs" stroke="#1a1a1a" stroke-width="0.2" >Cycle Number</text>
<polyline points="55.7,615.2 89.7,603.3 122.8,579.1 156.8,528.4 157.2,501 157.1,469.9" fill="none" stroke="#ff1a1a" stroke-width="1.2"/>
<polyline points="55.4,621.7 89.7,620.5 122.8,602.1 156.8,599.2 190.8,590.6 224.3,556.2 257.9,535.8" fill="none" stroke="#1a1aff" stroke-width="1.2"/>
<circle cx="55.7" cy="615.2" r="2.3" fill="#ff1a1a"/>
<circle cx="89.7" cy="603.3" r="2.3" fill="#ff1a1a"/>
<circle cx="122.8" cy="579.1" r="2.3" fill="#ff1a1a"/>
<circle cx="156.8" cy="528.4" r="2.3" fill="#ff1a1a"/>
<circle cx="55.4" cy="621.7" r="2.3" fill="#1a1aff"/>
<circle cx="89.7" cy="620.5" r="2.3" fill="#1a1aff"/>
<circle cx="122.8" cy="602.1" r="2.3" fill="#1a1aff"/>
<circle cx="156.8" cy="599.2" r="2.3" fill="#1a1aff"/>
<circle cx="190.8" cy="590.6" r="2.3" fill="#1a1aff"/>
<circle cx="224.3" cy="556.2" r="2.3" fill="#1a1aff"/>
<circle cx="257.9" cy="535.8" r="2.3" fill="#1a1aff"/>
<rect x="140" y="477.5" width="125" height="23" fill="#fff"/>
<line x1="142" y1="483.9" x2="160.5" y2="483.9" stroke="#ff1a1a" stroke-width="1.2" />
<circle cx="151.2" cy="483.9" r="2.1" fill="#ff1a1a"/>
<line x1="142" y1="495.4" x2="160.5" y2="495.4" stroke="#1a1aff" stroke-width="1.2" />
<circle cx="151.2" cy="495.4" r="2.1" fill="#1a1aff"/>
<text x="162.7" y="486.9" font-size="10.5" font-family='"Liberation Sans", sans-serif' fill="#222" textLength="13.3" lengthAdjust="spacingAndGlyphs" stroke="#222" stroke-width="0.1" >LIB</text>
<text x="163.6" y="498.4" font-size="10.5" font-family='"Liberation Sans", sans-serif' fill="#222" textLength="13.4" lengthAdjust="spacingAndGlyphs" stroke="#222" stroke-width="0.1" >BIF</text>
<text x="189.1" y="486.8" font-size="9.9" font-family='"Liberation Sans", sans-serif' fill="#222" textLength="71.9" lengthAdjust="spacingAndGlyphs" stroke="#222" stroke-width="0.1" >(Max.Temp 90 <tspan font-size='6' dy='-1'>o</tspan><tspan dy='1'>C)</tspan></text>
<text x="190.4" y="498.3" font-size="9.9" font-family='"Liberation Sans", sans-serif' fill="#222" textLength="71.4" lengthAdjust="spacingAndGlyphs" stroke="#222" stroke-width="0.1" >(Max.Temp 63 <tspan font-size='6' dy='-1'>o</tspan><tspan dy='1'>C)</tspan></text>
<text x="286.4" y="474" font-size="15.9" font-family='"Liberation Serif", serif' fill="#111" font-weight="bold" textLength="13.6" lengthAdjust="spacingAndGlyphs" >(f)</text>
<path d="M331.2,480.7 L352.1,480.7 L355.3,483.1 L360.4,478.3 L365.7,483.1 L370.7,478.3 L374.4,480.7 L399.5,480.7 L403.2,483.1 L408.2,478.3 L413.6,483.1 L419.1,478.3 L421.8,480.7 L448,480.7 L451.2,483.1 L456.2,478.3 L461.6,483.1 L467.3,478.3 L469.8,480.7 L490.8,480.7 L492.3,480.7 L494,482.9 L495.8,479.09999999999997 L497.6,482.9 L499.9,478.7 L501,480.7 L528.5,480.7" fill="none" stroke="#262626" stroke-width="1.15" stroke-linejoin="miter"/>
<path d="M392.3,480.7 L392.3,494.5 L405.2,494.5 M413,494.5 L429.5,494.5 L429.5,480.7 M440,480.7 L440,494.5 L453.2,494.5 M461.5,494.5 L477.5,494.5 L477.5,480.7" fill="none" stroke="#262626" stroke-width="1.15"/>
<path d="M405.4,492.2 L408.6,494.5 L405.4,496.8 M410,492.2 L413.2,494.5 L410,496.8" fill="none" stroke="#262626" stroke-width="1.1"/>
<path d="M452.9,492.2 L456.1,494.5 L452.9,496.8 M457.5,492.2 L460.7,494.5 L457.5,496.8" fill="none" stroke="#262626" stroke-width="1.1"/>
<circle cx="392.3" cy="480.4" r="2.3" fill="#111"/>
<circle cx="440" cy="480.4" r="2.3" fill="#111"/>
<text x="353.5" y="476.3" font-size="6.3" font-family='"Liberation Sans", sans-serif' fill="#4a4a55" font-weight="bold" textLength="17.2" lengthAdjust="spacingAndGlyphs" stroke="#4a4a55" stroke-width="0.1" >R ohm</text>
<text x="404.1" y="476.3" font-size="6.3" font-family='"Liberation Sans", sans-serif' fill="#4a4a55" font-weight="bold" textLength="13.6" lengthAdjust="spacingAndGlyphs" stroke="#4a4a55" stroke-width="0.1" >R SEI</text>
<text x="400" y="490.4" font-size="6.3" font-family='"Liberation Sans", sans-serif' fill="#4a4a55" font-weight="bold" textLength="21.8" lengthAdjust="spacingAndGlyphs" stroke="#4a4a55" stroke-width="0.1" >CPE SEI</text>
<text x="453" y="476.3" font-size="6.3" font-family='"Liberation Sans", sans-serif' fill="#4a4a55" font-weight="bold" textLength="10.9" lengthAdjust="spacingAndGlyphs" stroke="#4a4a55" stroke-width="0.1" >R ct</text>
<text x="449.6" y="490.6" font-size="6.3" font-family='"Liberation Sans", sans-serif' fill="#4a4a55" font-weight="bold" textLength="18" lengthAdjust="spacingAndGlyphs" stroke="#4a4a55" stroke-width="0.1" >CPE ct</text>
<text x="493.1" y="476" font-size="6.3" font-family='"Liberation Sans", sans-serif' fill="#4a4a55" font-weight="bold" textLength="5" lengthAdjust="spacingAndGlyphs" stroke="#4a4a55" stroke-width="0.1" >W</text>
<text x="500.6" y="484.6" font-size="4.6" font-family='"Liberation Sans", sans-serif' fill="#4a4a55" font-weight="bold" stroke="#4a4a55" stroke-width="0.1" >s</text>
<circle cx="330.5" cy="513.7" r="1.3" fill="#222"/>
<text x="355" y="516.8" font-size="7.8" font-family='"Liberation Sans", sans-serif' fill="#333" textLength="151" lengthAdjust="spacingAndGlyphs" stroke="#333" stroke-width="0.12" >Samsung-INR18650 30q Avtive Area : 372 <tspan font-family='"Liberation Serif", serif' font-size='8.4'>cm</tspan><tspan font-family='"Liberation Serif", serif' font-size='5.5' dy='-3.5'>2</tspan></text>
<text x="342.8" y="533.5" font-size="8" font-family='"Liberation Sans", sans-serif' fill="#333" textLength="160.7" lengthAdjust="spacingAndGlyphs" stroke="#333" stroke-width="0.12" >Scan from 7 MHz to 10mHz / Sinus amplitude Va</text>
<text x="357.4" y="543" font-size="8" font-family='"Liberation Sans", sans-serif' fill="#333" textLength="132.1" lengthAdjust="spacingAndGlyphs" stroke="#333" stroke-width="0.12" >= 10mV / Pw=0.1 period / Average Na=2</text>
</svg></body></html>
